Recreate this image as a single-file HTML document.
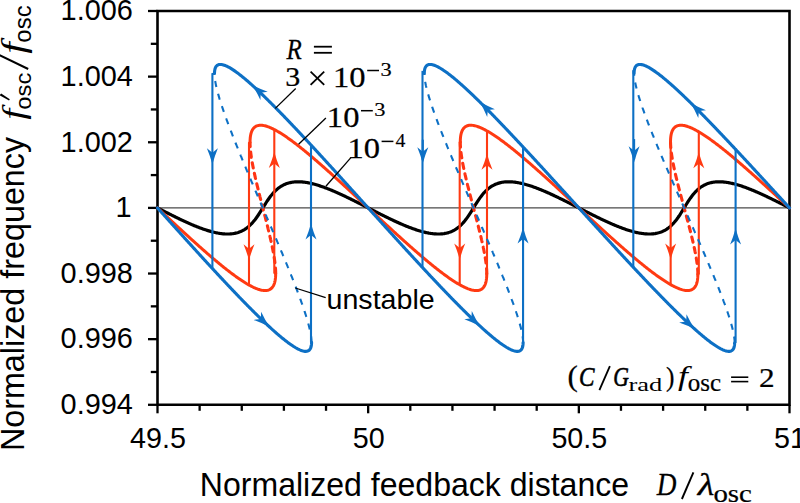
<!DOCTYPE html>
<html><head><meta charset="utf-8"><style>
html,body{margin:0;padding:0;background:#fff;overflow:hidden;width:800px;height:503px;}
svg{display:block;}
</style></head><body>
<svg width="800" height="503" viewBox="0 0 800 503">
<path d="M157.5,11.0 H789.5 V404.8 H157.5 Z" fill="none" stroke="#000" stroke-width="2.6"/>
<line x1="148.00" y1="404.80" x2="157.5" y2="404.80" stroke="#000" stroke-width="2.3"/>
<line x1="150.80" y1="371.98" x2="157.5" y2="371.98" stroke="#000" stroke-width="2.3"/>
<line x1="148.00" y1="339.17" x2="157.5" y2="339.17" stroke="#000" stroke-width="2.3"/>
<line x1="150.80" y1="306.35" x2="157.5" y2="306.35" stroke="#000" stroke-width="2.3"/>
<line x1="148.00" y1="273.53" x2="157.5" y2="273.53" stroke="#000" stroke-width="2.3"/>
<line x1="150.80" y1="240.72" x2="157.5" y2="240.72" stroke="#000" stroke-width="2.3"/>
<line x1="148.00" y1="207.90" x2="157.5" y2="207.90" stroke="#000" stroke-width="2.3"/>
<line x1="150.80" y1="175.08" x2="157.5" y2="175.08" stroke="#000" stroke-width="2.3"/>
<line x1="148.00" y1="142.27" x2="157.5" y2="142.27" stroke="#000" stroke-width="2.3"/>
<line x1="150.80" y1="109.45" x2="157.5" y2="109.45" stroke="#000" stroke-width="2.3"/>
<line x1="148.00" y1="76.63" x2="157.5" y2="76.63" stroke="#000" stroke-width="2.3"/>
<line x1="150.80" y1="43.82" x2="157.5" y2="43.82" stroke="#000" stroke-width="2.3"/>
<line x1="148.00" y1="11.00" x2="157.5" y2="11.00" stroke="#000" stroke-width="2.3"/>
<line x1="157.50" y1="404.8" x2="157.50" y2="413.30" stroke="#000" stroke-width="2.3"/>
<line x1="199.63" y1="404.8" x2="199.63" y2="410.80" stroke="#000" stroke-width="2.3"/>
<line x1="241.77" y1="404.8" x2="241.77" y2="410.80" stroke="#000" stroke-width="2.3"/>
<line x1="283.90" y1="404.8" x2="283.90" y2="410.80" stroke="#000" stroke-width="2.3"/>
<line x1="326.03" y1="404.8" x2="326.03" y2="410.80" stroke="#000" stroke-width="2.3"/>
<line x1="368.17" y1="404.8" x2="368.17" y2="413.30" stroke="#000" stroke-width="2.3"/>
<line x1="410.30" y1="404.8" x2="410.30" y2="410.80" stroke="#000" stroke-width="2.3"/>
<line x1="452.43" y1="404.8" x2="452.43" y2="410.80" stroke="#000" stroke-width="2.3"/>
<line x1="494.57" y1="404.8" x2="494.57" y2="410.80" stroke="#000" stroke-width="2.3"/>
<line x1="536.70" y1="404.8" x2="536.70" y2="410.80" stroke="#000" stroke-width="2.3"/>
<line x1="578.83" y1="404.8" x2="578.83" y2="413.30" stroke="#000" stroke-width="2.3"/>
<line x1="620.97" y1="404.8" x2="620.97" y2="410.80" stroke="#000" stroke-width="2.3"/>
<line x1="663.10" y1="404.8" x2="663.10" y2="410.80" stroke="#000" stroke-width="2.3"/>
<line x1="705.23" y1="404.8" x2="705.23" y2="410.80" stroke="#000" stroke-width="2.3"/>
<line x1="747.37" y1="404.8" x2="747.37" y2="410.80" stroke="#000" stroke-width="2.3"/>
<line x1="789.50" y1="404.8" x2="789.50" y2="413.30" stroke="#000" stroke-width="2.3"/>
<line x1="157.5" y1="207.90" x2="789.5" y2="207.90" stroke="#4a4a4a" stroke-width="1.3"/>
<path d="M157.50,207.90 L158.31,208.32 L159.13,208.74 L159.94,209.15 L160.75,209.57 L161.57,209.99 L162.38,210.41 L163.19,210.82 L164.00,211.24 L164.81,211.65 L165.63,212.06 L166.44,212.48 L167.24,212.89 L168.05,213.30 L168.86,213.71 L169.67,214.11 L170.47,214.52 L171.28,214.92 L172.10,215.33 L172.92,215.74 L173.73,216.15 L174.55,216.55 L175.36,216.95 L176.17,217.35 L176.98,217.75 L177.79,218.14 L178.62,218.54 L179.44,218.94 L180.26,219.33 L181.07,219.72 L181.89,220.11 L182.72,220.50 L183.54,220.88 L184.37,221.27 L185.19,221.65 L186.01,222.02 L186.84,222.40 L187.66,222.77 L188.49,223.14 L189.33,223.51 L190.16,223.88 L190.99,224.24 L191.82,224.60 L192.66,224.96 L193.49,225.31 L194.33,225.66 L195.17,226.00 L196.01,226.34 L196.86,226.68 L197.70,227.02 L198.54,227.35 L199.40,227.67 L200.24,227.99 L201.10,228.31 L201.95,228.62 L202.81,228.93 L203.66,229.22 L204.53,229.52 L205.38,229.81 L206.25,230.09 L207.11,230.36 L207.98,230.63 L208.85,230.90 L209.72,231.15 L210.59,231.40 L211.47,231.64 L212.34,231.86 L213.22,232.09 L214.11,232.30 L215.00,232.50 L215.88,232.69 L216.76,232.87 L217.65,233.04 L218.54,233.20 L219.44,233.35 L220.33,233.48 L221.23,233.60 L222.13,233.71 L223.04,233.80 L223.94,233.88 L224.84,233.94 L225.74,233.98 L226.65,234.01 L227.55,234.02 L228.46,234.01 L229.37,233.98 L230.27,233.92 L231.17,233.85 L232.07,233.76 L232.97,233.64 L233.86,233.50 L234.74,233.33 L235.62,233.14 L236.50,232.93 L237.37,232.69 L238.23,232.42 L239.09,232.12 L239.93,231.80 L240.77,231.46 L241.59,231.08 L242.41,230.69 L243.20,230.27 L243.99,229.82 L244.76,229.35 L245.52,228.85 L246.27,228.34 L247.00,227.80 L247.71,227.24 L248.41,226.67 L249.09,226.07 L249.76,225.47 L250.41,224.84 L251.05,224.21 L251.68,223.55 L252.29,222.89 L252.89,222.21 L253.47,221.53 L254.05,220.83 L254.61,220.13 L255.17,219.42 L255.72,218.69 L256.25,217.96 L256.78,217.23 L257.30,216.49 L257.82,215.74 L258.32,214.99 L258.82,214.24 L259.32,213.48 L259.81,212.72 L260.30,211.96 L260.78,211.20 L261.26,210.43 L261.74,209.66 L262.22,208.89 L262.69,208.12 L263.17,207.35 L263.65,206.58 L264.13,205.82 L264.61,205.05 L265.09,204.29 L265.57,203.53 L266.06,202.76 L266.55,202.00 L267.05,201.24 L267.55,200.49 L268.06,199.74 L268.58,199.00 L269.10,198.27 L269.63,197.53 L270.17,196.81 L270.72,196.09 L271.28,195.38 L271.85,194.67 L272.43,193.98 L273.02,193.30 L273.63,192.63 L274.25,191.97 L274.88,191.32 L275.52,190.68 L276.18,190.07 L276.86,189.46 L277.55,188.88 L278.25,188.31 L278.97,187.76 L279.71,187.23 L280.46,186.72 L281.22,186.24 L282.00,185.78 L282.79,185.34 L283.60,184.93 L284.42,184.54 L285.25,184.18 L286.09,183.84 L286.94,183.53 L287.81,183.25 L288.67,183.00 L289.55,182.77 L290.43,182.56 L291.31,182.38 L292.21,182.23 L293.10,182.10 L294.00,181.99 L294.90,181.91 L295.81,181.85 L296.71,181.81 L297.61,181.79 L298.52,181.78 L299.43,181.80 L300.33,181.84 L301.24,181.89 L302.15,181.96 L303.05,182.05 L303.95,182.15 L304.84,182.26 L305.73,182.39 L306.62,182.53 L307.52,182.68 L308.42,182.85 L309.31,183.02 L310.20,183.21 L311.08,183.41 L311.96,183.62 L312.84,183.83 L313.72,184.06 L314.60,184.29 L315.47,184.54 L316.34,184.79 L317.21,185.05 L318.08,185.31 L318.95,185.58 L319.81,185.86 L320.67,186.15 L321.53,186.44 L322.38,186.73 L323.24,187.04 L324.09,187.34 L324.94,187.66 L325.78,187.97 L326.63,188.29 L327.49,188.62 L328.33,188.96 L329.18,189.29 L330.01,189.63 L330.86,189.98 L331.70,190.33 L332.54,190.68 L333.37,191.03 L334.22,191.39 L335.05,191.75 L335.88,192.11 L336.72,192.48 L337.54,192.85 L338.37,193.22 L339.20,193.60 L340.03,193.98 L340.85,194.36 L341.68,194.74 L342.50,195.12 L343.33,195.51 L344.15,195.90 L344.96,196.28 L345.78,196.68 L346.60,197.07 L347.43,197.47 L348.24,197.86 L349.05,198.26 L349.86,198.65 L350.68,199.05 L351.49,199.46 L352.31,199.86 L353.13,200.27 L353.95,200.68 L354.76,201.08 L355.56,201.49 L356.37,201.89 L357.18,202.30 L357.99,202.71 L358.80,203.12 L359.62,203.53 L360.43,203.94 L361.24,204.36 L362.06,204.77 L362.87,205.19 L363.68,205.61 L364.50,206.02 L365.32,206.44 L366.13,206.86 L366.95,207.28 L367.76,207.69 L368.58,208.11 L369.40,208.53 L370.21,208.95 L371.03,209.37 L371.84,209.78 L372.66,210.20 L373.47,210.62 L374.29,211.03 L375.10,211.45 L375.92,211.86 L376.73,212.27 L377.54,212.69 L378.35,213.10 L379.17,213.51 L379.97,213.91 L380.78,214.32 L381.59,214.72 L382.40,215.13 L383.20,215.53 L384.02,215.94 L384.84,216.34 L385.66,216.74 L386.48,217.14 L387.29,217.54 L388.10,217.94 L388.91,218.33 L389.74,218.73 L390.56,219.12 L391.38,219.51 L392.20,219.90 L393.02,220.29 L393.85,220.68 L394.67,221.06 L395.50,221.44 L396.32,221.82 L397.14,222.19 L397.97,222.57 L398.80,222.94 L399.63,223.31 L400.47,223.68 L401.30,224.04 L402.13,224.40 L402.96,224.76 L403.80,225.11 L404.64,225.46 L405.47,225.80 L406.31,226.15 L407.15,226.49 L408.00,226.83 L408.85,227.16 L409.69,227.48 L410.54,227.81 L411.39,228.12 L412.24,228.44 L413.09,228.74 L413.95,229.05 L414.81,229.34 L415.67,229.63 L416.53,229.92 L417.39,230.20 L418.25,230.47 L419.12,230.73 L419.99,230.99 L420.86,231.24 L421.73,231.48 L422.61,231.72 L423.48,231.95 L424.36,232.16 L425.24,232.37 L426.13,232.57 L427.02,232.76 L427.91,232.93 L428.79,233.10 L429.68,233.25 L430.57,233.40 L431.47,233.52 L432.37,233.64 L433.26,233.74 L434.16,233.83 L435.06,233.90 L435.96,233.95 L436.86,233.99 L437.77,234.01 L438.68,234.02 L439.59,234.00 L440.49,233.96 L441.39,233.90 L442.29,233.82 L443.19,233.72 L444.09,233.59 L444.98,233.44 L445.87,233.27 L446.76,233.07 L447.63,232.84 L448.50,232.59 L449.37,232.31 L450.22,232.01 L451.06,231.68 L451.89,231.32 L452.71,230.94 L453.52,230.53 L454.32,230.10 L455.10,229.64 L455.86,229.16 L456.61,228.66 L457.35,228.13 L458.07,227.58 L458.78,227.02 L459.47,226.43 L460.14,225.83 L460.81,225.21 L461.45,224.58 L462.09,223.93 L462.71,223.27 L463.31,222.59 L463.91,221.91 L464.49,221.21 L465.06,220.51 L465.62,219.80 L466.17,219.08 L466.71,218.35 L467.24,217.61 L467.76,216.87 L468.27,216.13 L468.78,215.38 L469.28,214.62 L469.77,213.87 L470.26,213.11 L470.75,212.34 L471.23,211.57 L471.71,210.81 L472.18,210.04 L472.66,209.28 L473.13,208.51 L473.60,207.74 L474.07,206.97 L474.55,206.20 L475.02,205.43 L475.49,204.66 L475.98,203.89 L476.46,203.13 L476.95,202.36 L477.44,201.61 L477.94,200.85 L478.44,200.09 L478.95,199.35 L479.47,198.60 L479.99,197.86 L480.52,197.13 L481.07,196.41 L481.62,195.69 L482.18,194.98 L482.75,194.29 L483.34,193.59 L483.93,192.92 L484.54,192.25 L485.16,191.60 L485.80,190.95 L486.45,190.33 L487.12,189.72 L487.80,189.12 L488.50,188.54 L489.21,187.98 L489.94,187.45 L490.68,186.93 L491.44,186.44 L492.21,185.96 L492.99,185.52 L493.79,185.09 L494.61,184.69 L495.43,184.32 L496.27,183.97 L497.11,183.65 L497.97,183.36 L498.83,183.10 L499.70,182.86 L500.59,182.64 L501.47,182.45 L502.37,182.29 L503.26,182.15 L504.15,182.03 L505.05,181.94 L505.95,181.87 L506.86,181.82 L507.76,181.79 L508.67,181.78 L509.57,181.79 L510.48,181.82 L511.38,181.87 L512.28,181.93 L513.19,182.01 L514.09,182.10 L514.99,182.21 L515.89,182.34 L516.79,182.47 L517.69,182.62 L518.58,182.78 L519.47,182.95 L520.36,183.14 L521.24,183.33 L522.12,183.53 L523.00,183.74 L523.88,183.97 L524.76,184.20 L525.63,184.44 L526.50,184.68 L527.37,184.94 L528.24,185.20 L529.11,185.47 L529.97,185.74 L530.84,186.03 L531.70,186.32 L532.55,186.61 L533.40,186.91 L534.25,187.21 L535.11,187.52 L535.95,187.83 L536.80,188.15 L537.65,188.48 L538.50,188.81 L539.35,189.14 L540.18,189.48 L541.03,189.82 L541.87,190.17 L542.71,190.51 L543.55,190.87 L544.39,191.22 L545.22,191.58 L546.05,191.94 L546.89,192.31 L547.72,192.68 L548.55,193.04 L549.38,193.42 L550.21,193.80 L551.03,194.17 L551.86,194.55 L552.69,194.94 L553.51,195.32 L554.33,195.71 L555.15,196.09 L555.97,196.48 L556.79,196.87 L557.62,197.27 L558.43,197.66 L559.24,198.06 L560.06,198.45 L560.88,198.85 L561.69,199.25 L562.51,199.66 L563.33,200.06 L564.14,200.46 L564.95,200.87 L565.76,201.27 L566.57,201.68 L567.38,202.08 L568.19,202.49 L569.01,202.90 L569.82,203.31 L570.64,203.72 L571.45,204.14 L572.27,204.55 L573.08,204.97 L573.90,205.38 L574.70,205.79 L575.51,206.20 L576.31,206.61 L577.11,207.02 L577.91,207.43 L578.72,207.84 L579.52,208.25 L580.32,208.66 L581.13,209.07 L581.93,209.48 L582.73,209.89 L583.53,210.30 L584.35,210.71 L585.17,211.13 L585.99,211.55 L586.80,211.96 L587.62,212.37 L588.43,212.78 L589.25,213.19 L590.06,213.60 L590.87,214.01 L591.68,214.42 L592.49,214.82 L593.30,215.22 L594.11,215.62 L594.93,216.03 L595.75,216.43 L596.57,216.84 L597.39,217.24 L598.21,217.63 L599.02,218.03 L599.84,218.42 L600.66,218.82 L601.49,219.21 L602.31,219.60 L603.13,219.99 L603.95,220.37 L604.77,220.76 L605.59,221.14 L606.42,221.52 L607.25,221.90 L608.07,222.27 L608.90,222.64 L609.73,223.02 L610.56,223.38 L611.39,223.74 L612.22,224.11 L613.06,224.47 L613.89,224.82 L614.73,225.17 L615.57,225.52 L616.40,225.87 L617.25,226.21 L618.09,226.55 L618.92,226.88 L619.77,227.21 L620.61,227.53 L621.47,227.85 L622.31,228.17 L623.17,228.48 L624.02,228.79 L624.88,229.09 L625.74,229.39 L626.60,229.68 L627.46,229.96 L628.33,230.24 L629.19,230.51 L630.06,230.77 L630.93,231.03 L631.80,231.28 L632.67,231.52 L633.55,231.75 L634.42,231.97 L635.30,232.19 L636.18,232.40 L637.07,232.59 L637.96,232.78 L638.85,232.96 L639.73,233.12 L640.62,233.27 L641.51,233.41 L642.41,233.54 L643.31,233.65 L644.20,233.75 L645.10,233.84 L646.00,233.91 L646.90,233.96 L647.81,234.00 L648.72,234.02 L649.62,234.01 L650.53,234.00 L651.43,233.96 L652.33,233.89 L653.23,233.81 L654.13,233.71 L655.03,233.58 L655.92,233.42 L656.81,233.25 L657.69,233.04 L658.56,232.82 L659.43,232.56 L660.29,232.28 L661.14,231.97 L661.98,231.64 L662.81,231.28 L663.62,230.89 L664.43,230.48 L665.22,230.04 L666.00,229.58 L666.76,229.10 L667.50,228.59 L668.23,228.07 L668.95,227.52 L669.65,226.95 L670.34,226.36 L671.01,225.75 L671.67,225.13 L672.31,224.49 L672.94,223.84 L673.55,223.18 L674.16,222.50 L674.74,221.82 L675.32,221.12 L675.88,220.41 L676.44,219.70 L676.98,218.98 L677.51,218.24 L678.04,217.51 L678.55,216.77 L679.07,216.02 L679.57,215.26 L680.06,214.51 L680.56,213.74 L681.04,212.98 L681.52,212.22 L682.00,211.45 L682.48,210.68 L682.95,209.90 L683.42,209.13 L683.89,208.36 L684.35,207.59 L684.82,206.82 L685.29,206.05 L685.76,205.28 L686.24,204.50 L686.72,203.73 L687.20,202.97 L687.68,202.21 L688.17,201.44 L688.67,200.68 L689.17,199.93 L689.68,199.18 L690.19,198.43 L690.71,197.70 L691.25,196.96 L691.79,196.24 L692.34,195.52 L692.90,194.81 L693.47,194.11 L694.06,193.43 L694.66,192.75 L695.27,192.08 L695.89,191.43 L696.53,190.79 L697.18,190.16 L697.85,189.55 L698.54,188.96 L699.24,188.38 L699.95,187.83 L700.68,187.30 L701.43,186.78 L702.19,186.29 L702.96,185.83 L703.75,185.39 L704.55,184.97 L705.37,184.58 L706.19,184.21 L707.04,183.87 L707.89,183.56 L708.74,183.28 L709.60,183.02 L710.47,182.79 L711.35,182.58 L712.23,182.40 L713.12,182.24 L714.01,182.11 L714.91,182.00 L715.81,181.92 L716.72,181.85 L717.63,181.81 L718.53,181.79 L719.43,181.78 L720.33,181.80 L721.24,181.83 L722.15,181.88 L723.05,181.95 L723.96,182.04 L724.86,182.13 L725.75,182.25 L726.64,182.37 L727.53,182.51 L728.42,182.66 L729.32,182.82 L730.21,183.00 L731.10,183.19 L731.99,183.38 L732.87,183.59 L733.75,183.80 L734.63,184.03 L735.51,184.26 L736.38,184.50 L737.25,184.75 L738.12,185.01 L738.99,185.27 L739.85,185.54 L740.71,185.81 L741.57,186.10 L742.43,186.39 L743.29,186.68 L744.15,186.98 L745.00,187.29 L745.86,187.60 L746.70,187.91 L747.55,188.23 L748.40,188.56 L749.24,188.89 L750.10,189.22 L750.94,189.56 L751.78,189.90 L752.62,190.25 L753.45,190.59 L754.30,190.95 L755.13,191.30 L755.96,191.66 L756.80,192.02 L757.62,192.38 L758.45,192.75 L759.29,193.12 L760.12,193.50 L760.94,193.87 L761.77,194.24 L762.59,194.62 L763.42,195.01 L764.24,195.39 L765.06,195.77 L765.88,196.16 L766.71,196.55 L767.53,196.94 L768.35,197.33 L769.16,197.72 L769.98,198.12 L770.79,198.52 L771.61,198.91 L772.43,199.32 L773.26,199.72 L774.07,200.12 L774.87,200.52 L775.69,200.92 L776.50,201.33 L777.31,201.73 L778.13,202.14 L778.94,202.55 L779.76,202.96 L780.57,203.37 L781.39,203.78 L782.21,204.20 L783.01,204.60 L783.82,205.01 L784.62,205.42 L785.43,205.83 L786.23,206.24 L787.04,206.65 L787.84,207.06 L788.65,207.47 L789.45,207.88 L789.50,207.90" fill="none" stroke="#000" stroke-width="3.2" stroke-linejoin="round" stroke-linecap="round"/>
<path d="M275.68,273.41 L275.67,272.90 L275.67,272.40 L275.66,271.88 L275.64,271.38 L275.63,270.88 L275.60,270.37 L275.58,269.87 L275.55,269.36 L275.52,268.85 L275.49,268.34 L275.45,267.83 L275.41,267.33 L275.37,266.81 L275.32,266.30 L275.27,265.79 L275.22,265.29 L275.17,264.78 L275.11,264.26 L275.06,263.76 L275.00,263.26 L274.94,262.75 L274.87,262.24 L274.81,261.72 L274.74,261.22 L274.67,260.72 L274.60,260.22 L274.53,259.71 L274.46,259.19 L274.38,258.68 L274.30,258.18 L274.22,257.68 L274.15,257.18 L274.06,256.67 L273.98,256.16 L273.90,255.65 L273.81,255.13 L273.72,254.64 L273.64,254.14 L273.55,253.64 L273.46,253.14 L273.37,252.63 L273.27,252.12 L273.18,251.61 L273.08,251.10 L272.99,250.61 L272.89,250.11 L272.80,249.62 L272.70,249.12 L272.60,248.62 L272.50,248.11 L272.40,247.61 L272.30,247.10 L272.19,246.59 L272.09,246.08 L271.98,245.57 L271.88,245.08 L271.77,244.59 L271.67,244.09 L271.56,243.60 L271.46,243.10 L271.35,242.60 L271.24,242.10 L271.13,241.60 L271.02,241.10 L270.91,240.59 L270.79,240.09 L270.68,239.58 L270.56,239.07 L270.45,238.56 L270.33,238.04 L270.22,237.56 L270.11,237.07 L269.99,236.58 L269.88,236.08 L269.76,235.59 L269.65,235.10 L269.53,234.60 L269.41,234.11 L269.30,233.61 L269.18,233.11 L269.06,232.61 L268.94,232.11 L268.82,231.61 L268.70,231.10 L268.58,230.60 L268.45,230.10 L268.33,229.59 L268.21,229.08 L268.08,228.58 L267.96,228.07 L267.83,227.56 L267.71,227.05 L267.58,226.54 L267.45,226.03 L267.33,225.54 L267.21,225.05 L267.09,224.57 L266.97,224.08 L266.85,223.59 L266.72,223.10 L266.60,222.61 L266.48,222.12 L266.35,221.63 L266.23,221.14 L266.10,220.65 L265.98,220.16 L265.85,219.67 L265.73,219.17 L265.60,218.68 L265.48,218.19 L265.35,217.69 L265.23,217.20 L265.10,216.70 L264.97,216.21 L264.84,215.71 L264.72,215.22 L264.59,214.72 L264.46,214.22 L264.34,213.73 L264.21,213.23 L264.08,212.73 L263.95,212.24 L263.82,211.74 L263.70,211.24 L263.57,210.74 L263.44,210.25 L263.31,209.75 L263.18,209.25 L263.05,208.75 L262.92,208.26 L262.80,207.76 L262.67,207.26 L262.54,206.76 L262.41,206.26 L262.28,205.77 L262.15,205.27 L262.03,204.77 L261.90,204.27 L261.77,203.77 L261.64,203.28 L261.51,202.78 L261.39,202.28 L261.26,201.79 L261.13,201.29 L261.00,200.79 L260.88,200.30 L260.75,199.80 L260.62,199.31 L260.50,198.81 L260.37,198.32 L260.24,197.82 L260.12,197.33 L259.99,196.84 L259.87,196.34 L259.74,195.85 L259.62,195.36 L259.49,194.87 L259.37,194.38 L259.25,193.89 L259.12,193.40 L259.00,192.91 L258.88,192.42 L258.76,191.93 L258.63,191.44 L258.51,190.95 L258.39,190.47 L258.27,189.98 L258.14,189.47 L258.02,188.96 L257.89,188.45 L257.77,187.94 L257.64,187.43 L257.52,186.92 L257.39,186.41 L257.27,185.91 L257.15,185.40 L257.03,184.90 L256.91,184.40 L256.79,183.89 L256.67,183.39 L256.55,182.89 L256.43,182.39 L256.31,181.89 L256.19,181.40 L256.08,180.90 L255.96,180.41 L255.85,179.91 L255.73,179.42 L255.62,178.93 L255.51,178.44 L255.39,177.95 L255.28,177.44 L255.16,176.93 L255.05,176.42 L254.93,175.91 L254.82,175.40 L254.71,174.90 L254.60,174.39 L254.49,173.89 L254.38,173.39 L254.27,172.89 L254.16,172.39 L254.06,171.90 L253.95,171.40 L253.85,170.91 L253.75,170.42 L253.64,169.90 L253.53,169.39 L253.43,168.88 L253.33,168.38 L253.23,167.87 L253.13,167.37 L253.03,166.87 L252.93,166.37 L252.83,165.87 L252.74,165.37 L252.65,164.88 L252.55,164.37 L252.45,163.86 L252.36,163.35 L252.27,162.84 L252.18,162.34 L252.09,161.83 L252.00,161.33 L251.92,160.84 L251.84,160.34 L251.75,159.83 L251.67,159.32 L251.59,158.81 L251.51,158.31 L251.43,157.81 L251.35,157.31 L251.28,156.81 L251.20,156.30 L251.13,155.79 L251.06,155.28 L250.99,154.78 L250.93,154.28 L250.86,153.78 L250.80,153.27 L250.74,152.76 L250.68,152.25 L250.62,151.75 L250.56,151.25 L250.51,150.74 L250.46,150.23 L250.41,149.73 L250.37,149.23 L250.32,148.71 L250.28,148.20 L250.24,147.70 L250.21,147.20 L250.18,146.69 L250.15,146.18 L250.12,145.68 L250.10,145.16 L250.08,144.65 L250.06,144.15 L250.05,143.64 L250.04,143.13 L250.04,142.63 L250.04,142.43" fill="none" stroke="#ff3414" stroke-width="3.1" stroke-dasharray="5.3 5.5" stroke-linecap="round"/>
<path d="M486.77,273.79 L486.76,273.28 L486.76,272.76 L486.75,272.25 L486.73,271.74 L486.71,271.24 L486.69,270.73 L486.66,270.22 L486.64,269.72 L486.60,269.21 L486.57,268.70 L486.53,268.20 L486.49,267.70 L486.45,267.19 L486.40,266.67 L486.35,266.17 L486.30,265.67 L486.24,265.16 L486.19,264.65 L486.13,264.15 L486.07,263.65 L486.01,263.15 L485.94,262.64 L485.87,262.13 L485.81,261.63 L485.74,261.13 L485.67,260.63 L485.59,260.12 L485.52,259.61 L485.44,259.10 L485.36,258.61 L485.28,258.11 L485.20,257.61 L485.12,257.10 L485.03,256.60 L484.94,256.09 L484.86,255.57 L484.77,255.08 L484.68,254.59 L484.59,254.09 L484.50,253.59 L484.41,253.08 L484.31,252.58 L484.21,252.07 L484.12,251.56 L484.02,251.04 L483.92,250.55 L483.82,250.06 L483.72,249.56 L483.62,249.06 L483.52,248.56 L483.41,248.06 L483.31,247.55 L483.20,247.05 L483.10,246.54 L482.99,246.03 L482.88,245.51 L482.77,245.02 L482.66,244.53 L482.56,244.04 L482.45,243.54 L482.34,243.04 L482.22,242.54 L482.11,242.04 L482.00,241.54 L481.88,241.04 L481.77,240.53 L481.65,240.03 L481.54,239.52 L481.42,239.01 L481.30,238.50 L481.18,238.01 L481.07,237.52 L480.95,237.03 L480.84,236.54 L480.72,236.05 L480.60,235.56 L480.48,235.06 L480.36,234.57 L480.24,234.07 L480.12,233.57 L480.00,233.07 L479.88,232.57 L479.75,232.07 L479.63,231.57 L479.50,231.07 L479.38,230.57 L479.25,230.06 L479.13,229.55 L479.00,229.05 L478.87,228.54 L478.74,228.03 L478.62,227.52 L478.49,227.01 L478.36,226.50 L478.23,226.02 L478.11,225.53 L477.99,225.04 L477.86,224.56 L477.74,224.07 L477.61,223.58 L477.48,223.09 L477.36,222.60 L477.23,222.11 L477.10,221.62 L476.98,221.13 L476.85,220.64 L476.72,220.15 L476.59,219.66 L476.47,219.16 L476.34,218.67 L476.21,218.18 L476.08,217.68 L475.95,217.19 L475.82,216.69 L475.69,216.20 L475.56,215.70 L475.43,215.21 L475.30,214.71 L475.17,214.22 L475.04,213.72 L474.91,213.22 L474.77,212.72 L474.64,212.23 L474.51,211.73 L474.38,211.23 L474.25,210.74 L474.12,210.24 L473.99,209.74 L473.85,209.24 L473.72,208.74 L473.59,208.25 L473.46,207.75 L473.33,207.25 L473.20,206.75 L473.06,206.25 L472.93,205.76 L472.80,205.26 L472.67,204.76 L472.54,204.26 L472.41,203.77 L472.28,203.27 L472.15,202.77 L472.01,202.27 L471.88,201.78 L471.75,201.28 L471.62,200.79 L471.49,200.29 L471.36,199.79 L471.23,199.30 L471.10,198.80 L470.97,198.31 L470.84,197.81 L470.72,197.32 L470.59,196.83 L470.46,196.33 L470.33,195.84 L470.20,195.35 L470.07,194.86 L469.95,194.37 L469.82,193.88 L469.69,193.39 L469.57,192.90 L469.44,192.41 L469.32,191.92 L469.19,191.43 L469.07,190.94 L468.94,190.46 L468.82,189.97 L468.70,189.49 L468.57,188.98 L468.44,188.47 L468.31,187.96 L468.18,187.45 L468.05,186.94 L467.93,186.43 L467.80,185.93 L467.68,185.42 L467.55,184.92 L467.43,184.41 L467.30,183.91 L467.18,183.41 L467.06,182.91 L466.94,182.41 L466.81,181.91 L466.69,181.42 L466.57,180.92 L466.46,180.42 L466.34,179.93 L466.22,179.44 L466.10,178.95 L465.99,178.46 L465.87,177.97 L465.76,177.48 L465.64,176.97 L465.52,176.46 L465.40,175.95 L465.29,175.44 L465.17,174.94 L465.06,174.43 L464.94,173.93 L464.83,173.43 L464.72,172.93 L464.61,172.43 L464.50,171.94 L464.39,171.44 L464.29,170.95 L464.18,170.46 L464.08,169.97 L463.97,169.46 L463.86,168.95 L463.75,168.44 L463.65,167.93 L463.55,167.43 L463.44,166.93 L463.34,166.43 L463.24,165.93 L463.15,165.44 L463.05,164.94 L462.95,164.45 L462.85,163.94 L462.76,163.43 L462.66,162.92 L462.57,162.42 L462.48,161.92 L462.39,161.42 L462.30,160.92 L462.21,160.43 L462.12,159.91 L462.04,159.40 L461.95,158.89 L461.87,158.39 L461.79,157.89 L461.71,157.39 L461.63,156.89 L461.55,156.38 L461.47,155.87 L461.40,155.36 L461.33,154.86 L461.26,154.35 L461.19,153.86 L461.12,153.34 L461.06,152.83 L460.99,152.33 L460.93,151.83 L460.88,151.33 L460.82,150.81 L460.76,150.30 L460.71,149.80 L460.66,149.30 L460.62,148.78 L460.57,148.27 L460.53,147.77 L460.49,147.27 L460.46,146.75 L460.42,146.24 L460.39,145.74 L460.37,145.23 L460.34,144.72 L460.32,144.21 L460.31,143.70 L460.30,143.19 L460.29,142.69 L460.29,142.18 L460.29,142.06" fill="none" stroke="#ff3414" stroke-width="3.1" stroke-dasharray="5.3 5.5" stroke-linecap="round"/>
<path d="M697.86,274.14 L697.86,273.63 L697.85,273.12 L697.84,272.62 L697.82,272.11 L697.80,271.60 L697.78,271.09 L697.75,270.59 L697.72,270.07 L697.69,269.57 L697.65,269.06 L697.61,268.55 L697.57,268.04 L697.53,267.54 L697.48,267.03 L697.43,266.51 L697.37,266.01 L697.32,265.51 L697.26,265.00 L697.20,264.49 L697.14,263.99 L697.07,263.49 L697.01,262.98 L696.94,262.47 L696.87,261.96 L696.79,261.46 L696.72,260.96 L696.65,260.45 L696.57,259.95 L696.49,259.44 L696.40,258.92 L696.32,258.43 L696.24,257.93 L696.15,257.43 L696.07,256.92 L695.98,256.41 L695.89,255.90 L695.80,255.39 L695.70,254.89 L695.61,254.40 L695.52,253.90 L695.42,253.40 L695.33,252.89 L695.23,252.38 L695.13,251.88 L695.02,251.36 L694.93,250.87 L694.82,250.38 L694.72,249.88 L694.62,249.39 L694.52,248.89 L694.41,248.39 L694.30,247.88 L694.19,247.38 L694.08,246.87 L693.97,246.36 L693.86,245.85 L693.75,245.36 L693.64,244.87 L693.53,244.37 L693.42,243.88 L693.31,243.38 L693.19,242.89 L693.08,242.39 L692.96,241.89 L692.84,241.38 L692.73,240.88 L692.61,240.37 L692.49,239.87 L692.37,239.36 L692.24,238.85 L692.12,238.34 L692.00,237.85 L691.89,237.36 L691.77,236.87 L691.65,236.38 L691.53,235.89 L691.40,235.39 L691.28,234.90 L691.16,234.40 L691.03,233.91 L690.91,233.41 L690.78,232.91 L690.66,232.41 L690.53,231.91 L690.40,231.40 L690.28,230.90 L690.15,230.40 L690.02,229.89 L689.89,229.39 L689.76,228.88 L689.63,228.37 L689.50,227.86 L689.36,227.35 L689.23,226.84 L689.11,226.36 L688.98,225.87 L688.85,225.39 L688.72,224.90 L688.60,224.41 L688.47,223.93 L688.34,223.44 L688.21,222.95 L688.08,222.46 L687.95,221.97 L687.82,221.48 L687.69,220.99 L687.56,220.50 L687.43,220.00 L687.30,219.51 L687.17,219.02 L687.03,218.52 L686.90,218.03 L686.77,217.54 L686.64,217.04 L686.50,216.55 L686.37,216.05 L686.24,215.56 L686.10,215.06 L685.97,214.56 L685.84,214.07 L685.70,213.57 L685.57,213.07 L685.43,212.58 L685.30,212.08 L685.16,211.58 L685.03,211.09 L684.89,210.59 L684.76,210.09 L684.62,209.59 L684.49,209.09 L684.36,208.60 L684.22,208.10 L684.09,207.60 L683.95,207.10 L683.82,206.60 L683.68,206.11 L683.55,205.61 L683.41,205.11 L683.28,204.61 L683.14,204.12 L683.01,203.62 L682.87,203.12 L682.74,202.62 L682.61,202.13 L682.47,201.63 L682.34,201.13 L682.20,200.64 L682.07,200.14 L681.94,199.65 L681.80,199.15 L681.67,198.66 L681.54,198.16 L681.41,197.67 L681.27,197.17 L681.14,196.68 L681.01,196.19 L680.88,195.70 L680.75,195.20 L680.62,194.71 L680.49,194.22 L680.36,193.73 L680.23,193.24 L680.10,192.75 L679.97,192.26 L679.84,191.77 L679.72,191.29 L679.59,190.80 L679.46,190.31 L679.33,189.83 L679.21,189.34 L679.08,188.86 L678.95,188.35 L678.82,187.84 L678.69,187.33 L678.56,186.82 L678.43,186.32 L678.30,185.81 L678.17,185.31 L678.04,184.80 L677.91,184.30 L677.79,183.80 L677.66,183.30 L677.53,182.80 L677.41,182.30 L677.29,181.80 L677.16,181.30 L677.04,180.81 L676.92,180.31 L676.80,179.82 L676.68,179.33 L676.56,178.84 L676.44,178.35 L676.32,177.86 L676.20,177.37 L676.08,176.86 L675.96,176.35 L675.84,175.84 L675.72,175.33 L675.60,174.83 L675.49,174.33 L675.37,173.82 L675.25,173.32 L675.14,172.82 L675.03,172.33 L674.91,171.83 L674.80,171.34 L674.69,170.84 L674.58,170.35 L674.48,169.86 L674.36,169.35 L674.25,168.84 L674.15,168.34 L674.04,167.83 L673.93,167.33 L673.83,166.83 L673.72,166.33 L673.62,165.83 L673.52,165.33 L673.42,164.84 L673.32,164.35 L673.22,163.84 L673.12,163.33 L673.02,162.82 L672.93,162.32 L672.83,161.82 L672.74,161.32 L672.65,160.82 L672.56,160.33 L672.47,159.82 L672.38,159.31 L672.29,158.80 L672.20,158.29 L672.12,157.79 L672.03,157.29 L671.95,156.80 L671.87,156.29 L671.79,155.77 L671.72,155.27 L671.64,154.76 L671.57,154.27 L671.50,153.77 L671.43,153.26 L671.36,152.75 L671.29,152.24 L671.23,151.74 L671.17,151.24 L671.11,150.73 L671.05,150.22 L671.00,149.72 L670.95,149.22 L670.90,148.70 L670.85,148.19 L670.80,147.69 L670.76,147.19 L670.72,146.67 L670.69,146.17 L670.66,145.66 L670.63,145.15 L670.60,144.64 L670.58,144.14 L670.56,143.63 L670.55,143.12 L670.54,142.62 L670.53,142.11 L670.53,141.70" fill="none" stroke="#ff3414" stroke-width="3.1" stroke-dasharray="5.3 5.5" stroke-linecap="round"/>
<path d="M250.04,142.43 L249.00,143.03 L249.00,285.00" fill="none" stroke="#ff3a12" stroke-width="2.1"/>
<path d="M249.00,260.20 Q246.80,252.20 243.50,244.20 L249.00,248.70 L254.50,244.20 Q251.20,252.20 249.00,260.20Z" fill="#ff3a12"/>
<path d="M460.29,142.06 L459.70,142.66 L459.70,284.74" fill="none" stroke="#ff3a12" stroke-width="2.1"/>
<path d="M459.70,259.60 Q457.50,251.60 454.20,243.60 L459.70,248.10 L465.20,243.60 Q461.90,251.60 459.70,259.60Z" fill="#ff3a12"/>
<path d="M670.53,141.70 L670.65,142.30 L670.65,284.62" fill="none" stroke="#ff3a12" stroke-width="2.1"/>
<path d="M670.65,259.50 Q668.45,251.50 665.15,243.50 L670.65,248.00 L676.15,243.50 Q672.85,251.50 670.65,259.50Z" fill="#ff3a12"/>
<path d="M275.68,273.41 L274.30,272.81 L274.30,129.56" fill="none" stroke="#ff3a12" stroke-width="2.1"/>
<path d="M274.30,152.00 Q276.50,160.00 279.80,168.00 L274.30,163.50 L268.80,168.00 Q272.10,160.00 274.30,152.00Z" fill="#ff3a12"/>
<path d="M486.77,273.79 L487.00,273.19 L487.00,130.79" fill="none" stroke="#ff3a12" stroke-width="2.1"/>
<path d="M487.00,153.80 Q489.20,161.80 492.50,169.80 L487.00,165.30 L481.50,169.80 Q484.80,161.80 487.00,153.80Z" fill="#ff3a12"/>
<path d="M697.86,274.14 L698.80,273.54 L698.80,131.31" fill="none" stroke="#ff3a12" stroke-width="2.1"/>
<path d="M698.80,152.30 Q701.00,160.30 704.30,168.30 L698.80,163.80 L693.30,168.30 Q696.60,160.30 698.80,152.30Z" fill="#ff3a12"/>
<path d="M157.50,207.90 L158.18,208.53 L158.85,209.17 L159.53,209.80 L160.21,210.43 L160.88,211.07 L161.56,211.70 L162.24,212.33 L162.91,212.97 L163.59,213.60 L164.26,214.23 L164.94,214.86 L165.62,215.50 L166.29,216.13 L166.97,216.76 L167.64,217.39 L168.32,218.02 L168.99,218.65 L169.66,219.28 L170.34,219.90 L171.01,220.53 L171.68,221.16 L172.35,221.78 L173.03,222.41 L173.70,223.03 L174.37,223.66 L175.04,224.28 L175.71,224.90 L176.38,225.52 L177.05,226.14 L177.71,226.76 L178.38,227.38 L179.05,227.99 L179.71,228.61 L180.38,229.22 L181.04,229.84 L181.71,230.45 L182.37,231.06 L183.06,231.69 L183.74,232.32 L184.43,232.95 L185.11,233.58 L185.80,234.21 L186.48,234.83 L187.16,235.46 L187.84,236.08 L188.52,236.70 L189.20,237.32 L189.88,237.94 L190.56,238.55 L191.23,239.16 L191.91,239.78 L192.58,240.39 L193.25,240.99 L193.92,241.60 L194.59,242.20 L195.28,242.83 L195.98,243.45 L196.67,244.07 L197.35,244.68 L198.04,245.30 L198.73,245.91 L199.41,246.52 L200.09,247.13 L200.77,247.73 L201.45,248.33 L202.13,248.93 L202.80,249.53 L203.50,250.14 L204.20,250.75 L204.89,251.36 L205.59,251.97 L206.28,252.57 L206.96,253.17 L207.65,253.77 L208.34,254.36 L209.02,254.95 L209.72,255.56 L210.42,256.16 L211.12,256.76 L211.82,257.36 L212.51,257.95 L213.20,258.54 L213.89,259.12 L214.60,259.72 L215.31,260.32 L216.01,260.91 L216.72,261.49 L217.42,262.08 L218.11,262.65 L218.83,263.25 L219.54,263.83 L220.25,264.42 L220.96,264.99 L221.66,265.56 L222.36,266.13 L223.08,266.71 L223.79,267.29 L224.50,267.85 L225.21,268.42 L225.94,268.99 L226.66,269.56 L227.37,270.12 L228.09,270.67 L228.82,271.24 L229.54,271.80 L230.27,272.35 L230.98,272.89 L231.72,273.45 L232.44,273.99 L233.17,274.53 L233.91,275.07 L234.64,275.61 L235.39,276.15 L236.13,276.68 L236.87,277.21 L237.62,277.74 L238.36,278.26 L239.12,278.78 L239.87,279.30 L240.63,279.81 L241.39,280.31 L242.15,280.82 L242.91,281.31 L243.68,281.81 L244.44,282.29 L245.21,282.77 L245.99,283.24 L246.78,283.72 L247.56,284.17 L248.34,284.63 L249.14,285.07 L249.93,285.51 L250.74,285.94 L251.54,286.36 L252.35,286.77 L253.17,287.16 L253.99,287.55 L254.82,287.92 L255.65,288.27 L256.49,288.61 L257.34,288.94 L258.20,289.24 L259.07,289.52 L259.94,289.78 L260.82,290.01 L261.70,290.20 L262.60,290.36 L263.49,290.48 L264.39,290.55 L265.30,290.56 L266.20,290.52 L267.10,290.40 L267.98,290.21 L268.83,289.93 L269.66,289.56 L270.45,289.10 L271.17,288.56 L271.82,287.94 L272.42,287.25 L272.94,286.51 L273.40,285.73 L273.80,284.92 L274.15,284.08 L274.45,283.23 L274.70,282.36 L274.92,281.48 L275.10,280.59 L275.25,279.69 L275.38,278.80 L275.48,277.90 L275.55,277.00 L275.61,276.09 L275.65,275.18 L275.67,274.28 L275.68,273.41" fill="none" stroke="#ff3a12" stroke-width="3.0" stroke-linejoin="round" stroke-linecap="round"/>
<path d="M250.04,142.43 L250.05,141.52 L250.07,140.61 L250.11,139.70 L250.17,138.80 L250.24,137.90 L250.34,137.00 L250.47,136.10 L250.62,135.20 L250.80,134.32 L251.02,133.44 L251.27,132.57 L251.57,131.71 L251.92,130.87 L252.32,130.06 L252.78,129.28 L253.30,128.54 L253.89,127.85 L254.55,127.24 L255.28,126.69 L256.06,126.23 L256.88,125.86 L257.74,125.59 L258.63,125.39 L259.53,125.28 L260.43,125.24 L261.34,125.26 L262.24,125.33 L263.13,125.45 L264.02,125.61 L264.91,125.81 L265.78,126.04 L266.65,126.30 L267.51,126.58 L268.37,126.89 L269.22,127.22 L270.06,127.56 L270.90,127.92 L271.72,128.30 L272.55,128.69 L273.36,129.08 L274.17,129.49 L274.97,129.91 L275.77,130.35 L276.57,130.79 L277.36,131.23 L278.14,131.69 L278.92,132.15 L279.71,132.62 L280.48,133.10 L281.25,133.58 L282.01,134.07 L282.78,134.56 L283.54,135.06 L284.30,135.56 L285.06,136.07 L285.82,136.59 L286.57,137.10 L287.32,137.63 L288.06,138.15 L288.81,138.68 L289.55,139.20 L290.29,139.74 L291.04,140.28 L291.77,140.82 L292.51,141.37 L293.23,141.91 L293.96,142.45 L294.69,143.01 L295.40,143.55 L296.12,144.10 L296.85,144.66 L297.58,145.23 L298.29,145.79 L299.01,146.35 L299.73,146.92 L300.45,147.49 L301.16,148.06 L301.87,148.62 L302.59,149.20 L303.30,149.78 L304.00,150.35 L304.71,150.92 L305.41,151.50 L306.12,152.08 L306.83,152.67 L307.55,153.26 L308.24,153.84 L308.94,154.43 L309.64,155.01 L310.35,155.61 L311.06,156.20 L311.77,156.80 L312.46,157.39 L313.15,157.98 L313.84,158.57 L314.54,159.17 L315.24,159.77 L315.94,160.37 L316.64,160.98 L317.33,161.57 L318.01,162.16 L318.70,162.76 L319.39,163.36 L320.08,163.96 L320.77,164.57 L321.47,165.18 L322.16,165.79 L322.86,166.41 L323.54,167.00 L324.22,167.60 L324.90,168.21 L325.58,168.81 L326.26,169.42 L326.95,170.03 L327.63,170.64 L328.32,171.26 L329.01,171.87 L329.70,172.49 L330.40,173.12 L331.07,173.72 L331.74,174.32 L332.41,174.93 L333.08,175.54 L333.76,176.14 L334.43,176.76 L335.11,177.37 L335.79,177.99 L336.47,178.60 L337.15,179.22 L337.83,179.84 L338.51,180.47 L339.20,181.09 L339.88,181.72 L340.57,182.34 L341.25,182.97 L341.94,183.60 L342.61,184.21 L343.27,184.82 L343.93,185.43 L344.60,186.04 L345.27,186.66 L345.93,187.27 L346.60,187.89 L347.27,188.50 L347.94,189.12 L348.61,189.74 L349.28,190.36 L349.95,190.98 L350.63,191.60 L351.30,192.22 L351.97,192.85 L352.65,193.47 L353.32,194.10 L354.00,194.72 L354.67,195.35 L355.35,195.98 L356.03,196.61 L356.70,197.23 L357.38,197.86 L358.06,198.49 L358.74,199.12 L359.41,199.75 L360.09,200.38 L360.77,201.02 L361.45,201.65 L362.13,202.28 L362.81,202.91 L363.49,203.55 L364.17,204.18 L364.85,204.81 L365.53,205.45 L366.21,206.08 L366.89,206.71 L367.57,207.35 L368.25,207.98 L368.93,208.62 L369.62,209.25 L370.30,209.88 L370.98,210.52 L371.66,211.15 L372.34,211.78 L373.02,212.42 L373.70,213.05 L374.38,213.68 L375.06,214.31 L375.74,214.95 L376.42,215.58 L377.10,216.21 L377.78,216.84 L378.46,217.47 L379.13,218.10 L379.81,218.73 L380.49,219.36 L381.17,219.98 L381.84,220.61 L382.52,221.24 L383.20,221.86 L383.87,222.49 L384.55,223.11 L385.22,223.74 L385.90,224.36 L386.57,224.98 L387.24,225.60 L387.92,226.22 L388.59,226.84 L389.26,227.46 L389.93,228.07 L390.60,228.69 L391.27,229.30 L391.94,229.91 L392.60,230.53 L393.27,231.14 L393.94,231.75 L394.60,232.35 L395.29,232.98 L395.98,233.61 L396.67,234.24 L397.35,234.86 L398.04,235.49 L398.73,236.11 L399.41,236.73 L400.09,237.35 L400.77,237.97 L401.45,238.58 L402.13,239.19 L402.81,239.81 L403.49,240.42 L404.16,241.02 L404.84,241.63 L405.51,242.23 L406.18,242.83 L406.88,243.45 L407.57,244.07 L408.26,244.69 L408.96,245.30 L409.65,245.92 L410.33,246.53 L411.02,247.13 L411.70,247.74 L412.39,248.34 L413.07,248.94 L413.75,249.53 L414.42,250.13 L415.13,250.74 L415.82,251.35 L416.52,251.96 L417.21,252.56 L417.91,253.16 L418.60,253.75 L419.28,254.35 L419.97,254.94 L420.65,255.52 L421.36,256.13 L422.06,256.73 L422.76,257.32 L423.46,257.92 L424.16,258.50 L424.85,259.09 L425.54,259.67 L426.25,260.26 L426.96,260.86 L427.67,261.44 L428.37,262.03 L429.07,262.60 L429.77,263.18 L430.48,263.77 L431.20,264.35 L431.91,264.93 L432.61,265.50 L433.32,266.07 L434.04,266.65 L434.76,267.22 L435.48,267.79 L436.19,268.35 L436.89,268.91 L437.62,269.48 L438.34,270.04 L439.06,270.60 L439.77,271.15 L440.50,271.71 L441.23,272.26 L441.95,272.80 L442.69,273.36 L443.42,273.90 L444.15,274.44 L444.89,274.99 L445.63,275.53 L446.36,276.06 L447.11,276.59 L447.85,277.12 L448.60,277.65 L449.35,278.17 L450.09,278.68 L450.85,279.20 L451.60,279.70 L452.36,280.21 L453.11,280.70 L453.88,281.20 L454.65,281.70 L455.42,282.18 L456.19,282.66 L456.98,283.14 L457.75,283.61 L458.54,284.07 L459.33,284.52 L460.12,284.97 L460.93,285.42 L461.73,285.85 L462.55,286.27 L463.36,286.68 L464.18,287.08 L465.00,287.47 L465.83,287.84 L466.67,288.20 L467.51,288.55 L468.36,288.87 L469.21,289.18 L470.07,289.46 L470.93,289.72 L471.81,289.96 L472.69,290.16 L473.58,290.33 L474.48,290.45 L475.38,290.54 L476.28,290.56 L477.19,290.53 L478.09,290.43 L478.98,290.26 L479.84,290.00 L480.67,289.65 L481.47,289.21 L482.20,288.68 L482.88,288.07 L483.48,287.40 L484.01,286.67 L484.48,285.90 L484.89,285.09 L485.24,284.25 L485.54,283.40 L485.80,282.53 L486.02,281.64 L486.21,280.75 L486.36,279.86 L486.48,278.96 L486.58,278.05 L486.65,277.14 L486.71,276.23 L486.74,275.32 L486.76,274.42 L486.77,273.79" fill="none" stroke="#ff3a12" stroke-width="3.0" stroke-linejoin="round" stroke-linecap="round"/>
<path d="M460.29,142.06 L460.29,141.16 L460.32,140.25 L460.36,139.35 L460.42,138.44 L460.50,137.54 L460.60,136.64 L460.73,135.74 L460.89,134.85 L461.08,133.96 L461.30,133.09 L461.57,132.23 L461.88,131.37 L462.24,130.55 L462.66,129.74 L463.14,128.97 L463.69,128.26 L464.31,127.60 L464.99,127.00 L465.73,126.49 L466.53,126.07 L467.37,125.74 L468.24,125.50 L469.14,125.34 L470.04,125.25 L470.94,125.24 L471.84,125.28 L472.74,125.37 L473.64,125.51 L474.53,125.69 L475.42,125.90 L476.29,126.14 L477.15,126.41 L478.01,126.71 L478.87,127.02 L479.71,127.35 L480.54,127.70 L481.38,128.07 L482.20,128.44 L483.02,128.84 L483.84,129.24 L484.65,129.66 L485.45,130.08 L486.24,130.51 L487.04,130.96 L487.84,131.41 L488.63,131.87 L489.41,132.34 L490.19,132.81 L490.96,133.28 L491.73,133.76 L492.50,134.25 L493.27,134.75 L494.04,135.25 L494.79,135.75 L495.55,136.26 L496.30,136.77 L497.05,137.29 L497.79,137.80 L498.54,138.33 L499.28,138.85 L500.02,139.38 L500.76,139.91 L501.49,140.45 L502.23,140.99 L502.97,141.54 L503.70,142.08 L504.43,142.63 L505.17,143.18 L505.89,143.73 L506.62,144.28 L507.35,144.85 L508.06,145.40 L508.78,145.96 L509.50,146.52 L510.23,147.09 L510.93,147.65 L511.65,148.22 L512.36,148.79 L513.08,149.36 L513.80,149.95 L514.51,150.51 L515.21,151.09 L515.92,151.67 L516.64,152.25 L517.35,152.84 L518.05,153.42 L518.75,154.00 L519.46,154.58 L520.16,155.17 L520.87,155.77 L521.58,156.36 L522.27,156.94 L522.97,157.53 L523.66,158.12 L524.36,158.71 L525.06,159.31 L525.77,159.91 L526.47,160.52 L527.16,161.11 L527.85,161.70 L528.54,162.29 L529.23,162.89 L529.92,163.49 L530.62,164.09 L531.31,164.70 L532.01,165.31 L532.71,165.93 L533.39,166.52 L534.07,167.12 L534.76,167.72 L535.44,168.32 L536.13,168.93 L536.81,169.53 L537.50,170.15 L538.19,170.76 L538.89,171.37 L539.58,171.99 L540.28,172.61 L540.95,173.21 L541.62,173.81 L542.30,174.42 L542.97,175.02 L543.65,175.63 L544.33,176.24 L545.01,176.86 L545.69,177.47 L546.37,178.08 L547.06,178.70 L547.74,179.32 L548.43,179.94 L549.11,180.57 L549.80,181.19 L550.49,181.82 L551.18,182.44 L551.87,183.07 L552.54,183.68 L553.21,184.29 L553.87,184.90 L554.54,185.51 L555.21,186.12 L555.88,186.73 L556.56,187.35 L557.23,187.97 L557.90,188.58 L558.57,189.20 L559.25,189.82 L559.92,190.44 L560.60,191.06 L561.28,191.68 L561.95,192.30 L562.63,192.93 L563.31,193.55 L563.99,194.18 L564.67,194.80 L565.35,195.43 L566.03,196.06 L566.71,196.69 L567.39,197.31 L568.07,197.94 L568.75,198.57 L569.43,199.20 L570.12,199.83 L570.80,200.47 L571.48,201.10 L572.17,201.73 L572.85,202.36 L573.53,202.99 L574.22,203.63 L574.90,204.26 L575.59,204.89 L576.27,205.53 L576.95,206.16 L577.64,206.79 L578.32,207.43 L579.01,208.06 L579.69,208.70 L580.38,209.33 L581.06,209.96 L581.75,210.60 L582.43,211.23 L583.12,211.86 L583.80,212.50 L584.49,213.13 L585.17,213.76 L585.85,214.39 L586.54,215.03 L587.22,215.66 L587.91,216.29 L588.59,216.92 L589.27,217.55 L589.95,218.18 L590.64,218.81 L591.32,219.44 L592.00,220.06 L592.68,220.69 L593.36,221.32 L594.04,221.94 L594.72,222.57 L595.40,223.19 L596.08,223.82 L596.76,224.44 L597.43,225.06 L598.11,225.68 L598.79,226.30 L599.46,226.92 L600.14,227.53 L600.81,228.15 L601.48,228.77 L602.16,229.38 L602.83,229.99 L603.50,230.60 L604.17,231.22 L604.84,231.82 L605.51,232.43 L606.18,233.04 L606.85,233.64 L607.54,234.27 L608.23,234.90 L608.92,235.52 L609.61,236.14 L610.29,236.76 L610.98,237.38 L611.67,238.00 L612.35,238.61 L613.03,239.22 L613.72,239.84 L614.40,240.45 L615.08,241.05 L615.76,241.66 L616.43,242.26 L617.11,242.86 L617.78,243.46 L618.48,244.08 L619.18,244.70 L619.87,245.31 L620.56,245.92 L621.26,246.53 L621.95,247.14 L622.63,247.74 L623.32,248.35 L624.01,248.95 L624.69,249.54 L625.37,250.14 L626.05,250.73 L626.75,251.34 L627.45,251.94 L628.15,252.54 L628.85,253.14 L629.54,253.74 L630.23,254.33 L630.92,254.92 L631.61,255.51 L632.30,256.09 L633.00,256.69 L633.71,257.29 L634.41,257.88 L635.11,258.47 L635.81,259.06 L636.50,259.64 L637.19,260.21 L637.91,260.81 L638.62,261.39 L639.32,261.98 L640.03,262.56 L640.73,263.13 L641.43,263.70 L642.15,264.28 L642.86,264.86 L643.57,265.43 L644.28,266.00 L644.98,266.57 L645.71,267.14 L646.43,267.71 L647.14,268.27 L647.85,268.83 L648.58,269.40 L649.31,269.97 L650.03,270.52 L650.75,271.07 L651.48,271.63 L652.21,272.19 L652.94,272.73 L653.66,273.27 L654.40,273.82 L655.13,274.36 L655.86,274.89 L656.60,275.43 L657.33,275.96 L658.09,276.50 L658.83,277.03 L659.57,277.55 L660.32,278.07 L661.07,278.58 L661.83,279.10 L662.58,279.61 L663.35,280.12 L664.11,280.61 L664.87,281.11 L665.63,281.60 L666.41,282.08 L667.19,282.57 L667.96,283.04 L668.74,283.51 L669.53,283.97 L670.32,284.43 L671.11,284.88 L671.90,285.31 L672.70,285.74 L673.50,286.16 L674.31,286.57 L675.11,286.97 L675.94,287.36 L676.77,287.74 L677.59,288.09 L678.43,288.44 L679.28,288.78 L680.13,289.09 L680.98,289.37 L681.85,289.64 L682.72,289.88 L683.60,290.10 L684.49,290.28 L685.38,290.42 L686.28,290.51 L687.19,290.56 L688.09,290.55 L688.99,290.48 L689.88,290.32 L690.76,290.09 L691.60,289.77 L692.41,289.36 L693.16,288.86 L693.85,288.27 L694.48,287.61 L695.03,286.89 L695.52,286.13 L695.94,285.33 L696.31,284.49 L696.62,283.64 L696.88,282.78 L697.11,281.89 L697.30,281.00 L697.45,280.10 L697.57,279.21 L697.67,278.31 L697.75,277.41 L697.80,276.51 L697.84,275.61 L697.86,274.70 L697.86,274.14" fill="none" stroke="#ff3a12" stroke-width="3.0" stroke-linejoin="round" stroke-linecap="round"/>
<path d="M670.53,141.70 L670.54,140.79 L670.56,139.89 L670.60,138.98 L670.67,138.08 L670.75,137.17 L670.86,136.27 L670.99,135.38 L671.16,134.48 L671.36,133.59 L671.60,132.71 L671.88,131.85 L672.20,131.01 L672.59,130.19 L673.03,129.40 L673.54,128.65 L674.11,127.95 L674.76,127.31 L675.47,126.76 L676.25,126.28 L677.07,125.90 L677.92,125.61 L678.80,125.41 L679.70,125.29 L680.60,125.24 L681.50,125.25 L682.41,125.32 L683.30,125.43 L684.19,125.59 L685.07,125.78 L685.96,126.01 L686.83,126.26 L687.69,126.54 L688.55,126.85 L689.40,127.17 L690.24,127.51 L691.07,127.86 L691.90,128.23 L692.73,128.62 L693.54,129.01 L694.35,129.42 L695.16,129.84 L695.96,130.26 L696.76,130.70 L697.56,131.15 L698.34,131.60 L699.12,132.05 L699.91,132.53 L700.70,133.00 L701.47,133.48 L702.23,133.96 L703.01,134.45 L703.77,134.94 L704.54,135.45 L705.30,135.95 L706.06,136.47 L706.82,136.98 L707.58,137.50 L708.32,138.02 L709.08,138.55 L709.82,139.07 L710.56,139.61 L711.30,140.13 L712.03,140.67 L712.78,141.21 L713.51,141.75 L714.24,142.29 L714.98,142.85 L715.70,143.39 L716.42,143.94 L717.16,144.50 L717.87,145.04 L718.59,145.60 L719.31,146.16 L720.04,146.73 L720.75,147.28 L721.46,147.84 L722.18,148.41 L722.90,148.98 L723.62,149.56 L724.33,150.13 L725.03,150.70 L725.75,151.28 L726.46,151.86 L727.18,152.44 L727.88,153.02 L728.58,153.59 L729.29,154.17 L729.99,154.76 L730.71,155.35 L731.42,155.94 L732.11,156.52 L732.81,157.11 L733.51,157.69 L734.21,158.29 L734.91,158.88 L735.62,159.48 L736.32,160.08 L737.01,160.67 L737.70,161.26 L738.39,161.85 L739.09,162.44 L739.78,163.04 L740.48,163.64 L741.18,164.25 L741.88,164.86 L742.58,165.47 L743.27,166.06 L743.95,166.66 L744.63,167.25 L745.32,167.85 L746.01,168.46 L746.70,169.06 L747.39,169.67 L748.08,170.28 L748.78,170.90 L749.48,171.51 L750.17,172.13 L750.85,172.73 L751.53,173.33 L752.20,173.93 L752.88,174.54 L753.56,175.14 L754.24,175.75 L754.93,176.36 L755.61,176.98 L756.30,177.59 L756.98,178.21 L757.67,178.82 L758.36,179.44 L759.05,180.07 L759.74,180.69 L760.43,181.31 L761.13,181.94 L761.80,182.54 L762.46,183.15 L763.14,183.76 L763.81,184.37 L764.48,184.98 L765.15,185.59 L765.83,186.20 L766.50,186.81 L767.18,187.43 L767.85,188.04 L768.53,188.66 L769.21,189.28 L769.89,189.90 L770.57,190.52 L771.25,191.14 L771.93,191.76 L772.61,192.38 L773.29,193.01 L773.97,193.63 L774.65,194.26 L775.34,194.88 L776.02,195.51 L776.70,196.14 L777.39,196.77 L778.07,197.40 L778.76,198.02 L779.45,198.65 L780.13,199.28 L780.82,199.92 L781.51,200.55 L782.19,201.18 L782.88,201.81 L783.57,202.44 L784.26,203.08 L784.94,203.71 L785.63,204.34 L786.32,204.98 L787.01,205.61 L787.70,206.24 L788.39,206.88 L789.05,207.49 L789.50,207.90" fill="none" stroke="#ff3a12" stroke-width="3.0" stroke-linejoin="round" stroke-linecap="round"/>
<path d="M311.57,342.31 L311.57,341.81 L311.55,341.30 L311.53,340.79 L311.50,340.29 L311.47,339.77 L311.43,339.26 L311.38,338.76 L311.33,338.25 L311.27,337.75 L311.21,337.24 L311.14,336.75 L311.07,336.24 L310.99,335.73 L310.92,335.22 L310.83,334.72 L310.75,334.22 L310.66,333.72 L310.56,333.21 L310.47,332.72 L310.37,332.22 L310.27,331.72 L310.16,331.21 L310.06,330.72 L309.95,330.22 L309.84,329.71 L309.72,329.20 L309.61,328.72 L309.49,328.22 L309.37,327.72 L309.25,327.22 L309.12,326.71 L309.00,326.22 L308.87,325.73 L308.74,325.23 L308.61,324.73 L308.48,324.22 L308.34,323.71 L308.21,323.22 L308.07,322.73 L307.93,322.24 L307.79,321.74 L307.65,321.24 L307.50,320.73 L307.36,320.22 L307.21,319.74 L307.07,319.25 L306.92,318.76 L306.78,318.27 L306.63,317.77 L306.47,317.27 L306.32,316.76 L306.16,316.26 L306.01,315.78 L305.86,315.30 L305.71,314.81 L305.55,314.32 L305.40,313.83 L305.24,313.34 L305.08,312.84 L304.92,312.34 L304.75,311.84 L304.58,311.33 L304.42,310.82 L304.26,310.35 L304.10,309.87 L303.94,309.39 L303.77,308.90 L303.61,308.41 L303.44,307.92 L303.27,307.43 L303.11,306.94 L302.93,306.44 L302.76,305.94 L302.59,305.44 L302.41,304.94 L302.24,304.43 L302.07,303.96 L301.90,303.48 L301.73,303.01 L301.56,302.53 L301.39,302.05 L301.22,301.57 L301.05,301.08 L300.87,300.59 L300.70,300.11 L300.52,299.62 L300.34,299.12 L300.16,298.63 L299.98,298.13 L299.80,297.63 L299.61,297.13 L299.43,296.63 L299.24,296.13 L299.06,295.62 L298.87,295.12 L298.69,294.64 L298.52,294.17 L298.34,293.70 L298.16,293.22 L297.98,292.75 L297.80,292.27 L297.62,291.79 L297.44,291.31 L297.26,290.83 L297.07,290.34 L296.89,289.86 L296.70,289.37 L296.51,288.88 L296.33,288.39 L296.14,287.90 L295.95,287.40 L295.76,286.91 L295.57,286.41 L295.37,285.91 L295.18,285.42 L294.99,284.91 L294.79,284.41 L294.59,283.91 L294.40,283.40 L294.20,282.90 L294.00,282.39 L293.82,281.92 L293.63,281.46 L293.45,280.99 L293.26,280.52 L293.08,280.05 L292.89,279.57 L292.70,279.10 L292.52,278.63 L292.33,278.15 L292.14,277.67 L291.95,277.19 L291.76,276.72 L291.56,276.24 L291.37,275.75 L291.18,275.27 L290.99,274.79 L290.79,274.30 L290.60,273.82 L290.40,273.33 L290.20,272.84 L290.01,272.36 L289.81,271.87 L289.61,271.38 L289.41,270.88 L289.21,270.39 L289.01,269.90 L288.81,269.40 L288.61,268.91 L288.41,268.41 L288.21,267.91 L288.00,267.42 L287.80,266.92 L287.59,266.42 L287.39,265.91 L287.18,265.41 L286.98,264.91 L286.77,264.40 L286.56,263.90 L286.36,263.39 L286.15,262.89 L285.94,262.38 L285.73,261.87 L285.54,261.41 L285.35,260.94 L285.15,260.48 L284.96,260.02 L284.77,259.55 L284.58,259.08 L284.38,258.62 L284.19,258.15 L283.99,257.68 L283.80,257.21 L283.60,256.74 L283.41,256.27 L283.21,255.80 L283.01,255.33 L282.82,254.85 L282.62,254.38 L282.42,253.91 L282.22,253.43 L282.03,252.96 L281.83,252.48 L281.63,252.01 L281.43,251.53 L281.23,251.05 L281.03,250.58 L280.83,250.10 L280.63,249.62 L280.42,249.14 L280.22,248.66 L280.02,248.18 L279.82,247.70 L279.61,247.22 L279.41,246.73 L279.21,246.25 L279.00,245.77 L278.80,245.28 L278.60,244.80 L278.39,244.32 L278.19,243.83 L277.98,243.34 L277.78,242.86 L277.57,242.37 L277.36,241.89 L277.16,241.40 L276.95,240.91 L276.74,240.42 L276.54,239.93 L276.33,239.44 L276.12,238.95 L275.91,238.46 L275.70,237.97 L275.50,237.48 L275.29,236.99 L275.08,236.50 L274.87,236.01 L274.66,235.51 L274.45,235.02 L274.24,234.53 L274.03,234.03 L273.82,233.54 L273.61,233.05 L273.40,232.55 L273.19,232.06 L272.97,231.56 L272.76,231.07 L272.55,230.57 L272.34,230.07 L272.13,229.58 L271.91,229.08 L271.70,228.58 L271.49,228.09 L271.28,227.59 L271.06,227.09 L270.85,226.59 L270.64,226.09 L270.42,225.60 L270.21,225.10 L270.00,224.60 L269.78,224.10 L269.57,223.60 L269.36,223.10 L269.14,222.60 L268.93,222.10 L268.71,221.60 L268.50,221.10 L268.28,220.60 L268.07,220.10 L267.85,219.60 L267.64,219.10 L267.42,218.59 L267.21,218.09 L266.99,217.59 L266.78,217.09 L266.56,216.59 L266.35,216.08 L266.13,215.58 L265.92,215.08 L265.70,214.58 L265.48,214.08 L265.27,213.57 L265.05,213.07 L264.84,212.57 L264.62,212.07 L264.41,211.56 L264.19,211.06 L263.97,210.56 L263.76,210.05 L263.54,209.55 L263.33,209.05 L263.11,208.55 L262.89,208.04 L262.68,207.54 L262.46,207.04 L262.25,206.53 L262.03,206.03 L261.82,205.53 L261.60,205.02 L261.38,204.52 L261.17,204.02 L260.95,203.52 L260.74,203.01 L260.52,202.51 L260.31,202.01 L260.09,201.51 L259.87,201.00 L259.66,200.50 L259.44,200.00 L259.23,199.50 L259.01,199.00 L258.80,198.49 L258.58,197.99 L258.37,197.49 L258.15,196.99 L257.94,196.49 L257.72,195.99 L257.51,195.49 L257.29,194.98 L257.08,194.48 L256.87,193.98 L256.65,193.48 L256.44,192.98 L256.22,192.48 L256.01,191.98 L255.80,191.48 L255.58,190.99 L255.37,190.49 L255.16,189.99 L254.95,189.49 L254.73,188.99 L254.52,188.49 L254.31,188.00 L254.10,187.50 L253.88,187.00 L253.67,186.50 L253.46,186.01 L253.25,185.51 L253.04,185.01 L252.83,184.52 L252.62,184.02 L252.41,183.53 L252.19,183.03 L251.98,182.54 L251.77,182.04 L251.57,181.55 L251.36,181.06 L251.15,180.56 L250.94,180.07 L250.73,179.58 L250.52,179.09 L250.31,178.60 L250.10,178.11 L249.90,177.61 L249.69,177.12 L249.48,176.63 L249.27,176.14 L249.07,175.66 L248.86,175.17 L248.66,174.68 L248.45,174.19 L248.24,173.70 L248.04,173.22 L247.83,172.73 L247.63,172.24 L247.43,171.76 L247.22,171.27 L247.02,170.79 L246.81,170.31 L246.61,169.82 L246.41,169.34 L246.21,168.86 L246.00,168.38 L245.80,167.89 L245.60,167.41 L245.40,166.93 L245.20,166.45 L245.00,165.97 L244.80,165.49 L244.60,165.02 L244.40,164.54 L244.20,164.06 L244.00,163.59 L243.81,163.11 L243.61,162.64 L243.41,162.16 L243.21,161.69 L243.02,161.21 L242.82,160.74 L242.63,160.27 L242.43,159.80 L242.24,159.33 L242.04,158.86 L241.85,158.39 L241.65,157.92 L241.46,157.45 L241.27,156.98 L241.08,156.51 L240.88,156.05 L240.69,155.58 L240.50,155.12 L240.31,154.65 L240.12,154.19 L239.93,153.73 L239.72,153.22 L239.52,152.71 L239.31,152.21 L239.10,151.70 L238.90,151.20 L238.69,150.69 L238.49,150.19 L238.28,149.69 L238.08,149.19 L237.88,148.69 L237.68,148.19 L237.47,147.69 L237.27,147.19 L237.07,146.70 L236.87,146.20 L236.67,145.71 L236.48,145.21 L236.28,144.72 L236.08,144.23 L235.88,143.74 L235.69,143.25 L235.49,142.76 L235.30,142.28 L235.11,141.79 L234.91,141.31 L234.72,140.82 L234.53,140.34 L234.34,139.86 L234.15,139.38 L233.96,138.90 L233.77,138.42 L233.58,137.94 L233.39,137.46 L233.20,136.99 L233.02,136.51 L232.83,136.04 L232.65,135.57 L232.46,135.10 L232.28,134.63 L232.10,134.16 L231.92,133.69 L231.74,133.23 L231.54,132.72 L231.34,132.21 L231.15,131.71 L230.95,131.21 L230.76,130.70 L230.57,130.20 L230.38,129.71 L230.19,129.21 L230.00,128.71 L229.81,128.22 L229.62,127.73 L229.44,127.23 L229.25,126.74 L229.07,126.26 L228.88,125.77 L228.70,125.28 L228.52,124.80 L228.34,124.32 L228.16,123.84 L227.98,123.36 L227.80,122.88 L227.62,122.40 L227.45,121.93 L227.27,121.46 L227.10,120.99 L226.93,120.52 L226.74,120.01 L226.56,119.50 L226.37,119.00 L226.19,118.50 L226.01,118.00 L225.83,117.50 L225.65,117.01 L225.48,116.51 L225.30,116.02 L225.12,115.53 L224.95,115.04 L224.78,114.56 L224.61,114.07 L224.44,113.59 L224.27,113.11 L224.10,112.63 L223.94,112.16 L223.77,111.68 L223.60,111.18 L223.42,110.67 L223.25,110.17 L223.08,109.67 L222.91,109.17 L222.74,108.67 L222.57,108.18 L222.41,107.69 L222.24,107.20 L222.08,106.71 L221.92,106.23 L221.76,105.75 L221.61,105.27 L221.45,104.79 L221.29,104.29 L221.12,103.78 L220.96,103.28 L220.80,102.78 L220.64,102.29 L220.49,101.79 L220.33,101.30 L220.18,100.82 L220.03,100.33 L219.88,99.85 L219.73,99.34 L219.57,98.84 L219.42,98.33 L219.27,97.83 L219.13,97.34 L218.98,96.84 L218.84,96.35 L218.70,95.87 L218.56,95.39 L218.41,94.88 L218.27,94.37 L218.13,93.87 L218.00,93.38 L217.86,92.88 L217.73,92.39 L217.60,91.91 L217.47,91.40 L217.33,90.90 L217.21,90.40 L217.08,89.90 L216.96,89.41 L216.84,88.92 L216.71,88.41 L216.59,87.91 L216.48,87.41 L216.36,86.92 L216.25,86.41 L216.14,85.90 L216.03,85.40 L215.92,84.90 L215.82,84.41 L215.72,83.90 L215.62,83.40 L215.53,82.91 L215.43,82.39 L215.34,81.89 L215.26,81.39 L215.17,80.88 L215.09,80.37 L215.02,79.87 L214.94,79.36 L214.88,78.86 L214.81,78.35 L214.75,77.84 L214.70,77.32 L214.65,76.82 L214.61,76.31 L214.57,75.80 L214.54,75.29 L214.52,74.77 L214.50,74.27 L214.50,73.76 L214.49,73.56" fill="none" stroke="#0d70c5" stroke-width="2.1" stroke-dasharray="6.2 6.8" stroke-linecap="butt"/>
<path d="M523.10,342.50 L523.10,341.99 L523.09,341.48 L523.06,340.98 L523.04,340.48 L523.00,339.97 L522.96,339.46 L522.91,338.95 L522.86,338.44 L522.80,337.93 L522.73,337.42 L522.66,336.91 L522.59,336.40 L522.51,335.89 L522.43,335.39 L522.35,334.89 L522.25,334.37 L522.16,333.87 L522.07,333.37 L521.97,332.85 L521.87,332.36 L521.76,331.86 L521.66,331.35 L521.55,330.86 L521.44,330.36 L521.32,329.86 L521.20,329.35 L521.09,328.86 L520.97,328.37 L520.85,327.87 L520.72,327.37 L520.59,326.86 L520.47,326.37 L520.34,325.88 L520.21,325.39 L520.07,324.89 L519.94,324.38 L519.80,323.87 L519.66,323.39 L519.52,322.90 L519.38,322.41 L519.24,321.91 L519.10,321.41 L518.95,320.90 L518.80,320.39 L518.65,319.91 L518.51,319.43 L518.36,318.94 L518.21,318.44 L518.06,317.95 L517.90,317.45 L517.74,316.94 L517.58,316.44 L517.43,315.96 L517.28,315.48 L517.12,314.99 L516.97,314.51 L516.81,314.02 L516.65,313.52 L516.48,313.03 L516.32,312.53 L516.15,312.03 L515.98,311.52 L515.81,311.02 L515.65,310.54 L515.49,310.06 L515.32,309.58 L515.16,309.10 L514.99,308.61 L514.82,308.12 L514.65,307.63 L514.48,307.14 L514.31,306.64 L514.13,306.14 L513.95,305.64 L513.78,305.14 L513.60,304.63 L513.43,304.16 L513.26,303.69 L513.09,303.21 L512.92,302.74 L512.74,302.26 L512.57,301.78 L512.39,301.29 L512.21,300.81 L512.03,300.32 L511.86,299.83 L511.67,299.34 L511.49,298.84 L511.31,298.35 L511.12,297.85 L510.94,297.35 L510.75,296.85 L510.56,296.35 L510.37,295.84 L510.18,295.34 L510.00,294.87 L509.82,294.40 L509.64,293.92 L509.46,293.45 L509.28,292.97 L509.10,292.50 L508.92,292.02 L508.73,291.54 L508.54,291.05 L508.36,290.57 L508.17,290.09 L507.98,289.60 L507.79,289.11 L507.60,288.62 L507.41,288.13 L507.22,287.64 L507.02,287.14 L506.83,286.65 L506.64,286.15 L506.44,285.65 L506.24,285.15 L506.04,284.65 L505.84,284.15 L505.64,283.64 L505.44,283.14 L505.26,282.67 L505.07,282.21 L504.89,281.74 L504.70,281.27 L504.51,280.80 L504.32,280.33 L504.13,279.86 L503.94,279.39 L503.75,278.91 L503.56,278.44 L503.37,277.96 L503.18,277.48 L502.98,277.01 L502.79,276.53 L502.59,276.05 L502.40,275.56 L502.20,275.08 L502.00,274.60 L501.81,274.11 L501.61,273.63 L501.41,273.14 L501.21,272.65 L501.01,272.16 L500.81,271.67 L500.61,271.18 L500.40,270.69 L500.20,270.20 L500.00,269.70 L499.79,269.21 L499.59,268.71 L499.38,268.22 L499.18,267.72 L498.97,267.22 L498.76,266.72 L498.56,266.22 L498.35,265.72 L498.14,265.21 L497.93,264.71 L497.72,264.21 L497.51,263.70 L497.30,263.19 L497.08,262.69 L496.89,262.23 L496.70,261.76 L496.50,261.30 L496.31,260.84 L496.11,260.37 L495.92,259.91 L495.72,259.44 L495.52,258.97 L495.33,258.51 L495.13,258.04 L494.93,257.57 L494.74,257.10 L494.54,256.63 L494.34,256.16 L494.14,255.69 L493.94,255.22 L493.74,254.74 L493.54,254.27 L493.34,253.80 L493.14,253.32 L492.93,252.85 L492.73,252.37 L492.53,251.90 L492.33,251.42 L492.12,250.94 L491.92,250.46 L491.72,249.99 L491.51,249.51 L491.31,249.03 L491.10,248.55 L490.90,248.07 L490.69,247.59 L490.49,247.10 L490.28,246.62 L490.07,246.14 L489.87,245.66 L489.66,245.17 L489.45,244.69 L489.24,244.20 L489.04,243.72 L488.83,243.23 L488.62,242.75 L488.41,242.26 L488.20,241.77 L487.99,241.28 L487.78,240.80 L487.57,240.31 L487.36,239.82 L487.15,239.33 L486.94,238.84 L486.73,238.35 L486.51,237.86 L486.30,237.37 L486.09,236.88 L485.88,236.38 L485.67,235.89 L485.45,235.40 L485.24,234.91 L485.03,234.41 L484.81,233.92 L484.60,233.43 L484.39,232.93 L484.17,232.44 L483.96,231.94 L483.74,231.45 L483.53,230.95 L483.31,230.45 L483.10,229.96 L482.88,229.46 L482.67,228.97 L482.45,228.47 L482.24,227.97 L482.02,227.47 L481.80,226.98 L481.59,226.48 L481.37,225.98 L481.15,225.48 L480.94,224.98 L480.72,224.48 L480.50,223.98 L480.29,223.48 L480.07,222.98 L479.85,222.48 L479.63,221.98 L479.42,221.48 L479.20,220.98 L478.98,220.48 L478.76,219.98 L478.54,219.48 L478.33,218.98 L478.11,218.48 L477.89,217.98 L477.67,217.47 L477.45,216.97 L477.23,216.47 L477.02,215.97 L476.80,215.47 L476.58,214.96 L476.36,214.46 L476.14,213.96 L475.92,213.46 L475.70,212.95 L475.48,212.45 L475.26,211.95 L475.04,211.45 L474.83,210.94 L474.61,210.44 L474.39,209.94 L474.17,209.43 L473.95,208.93 L473.73,208.43 L473.51,207.93 L473.29,207.42 L473.07,206.92 L472.85,206.42 L472.63,205.91 L472.42,205.41 L472.20,204.91 L471.98,204.40 L471.76,203.90 L471.54,203.40 L471.32,202.90 L471.10,202.39 L470.88,201.89 L470.66,201.39 L470.45,200.89 L470.23,200.38 L470.01,199.88 L469.79,199.38 L469.57,198.88 L469.35,198.38 L469.14,197.88 L468.92,197.37 L468.70,196.87 L468.48,196.37 L468.26,195.87 L468.05,195.37 L467.83,194.87 L467.61,194.37 L467.39,193.87 L467.18,193.37 L466.96,192.87 L466.74,192.37 L466.53,191.87 L466.31,191.37 L466.09,190.87 L465.88,190.37 L465.66,189.87 L465.44,189.37 L465.23,188.87 L465.01,188.38 L464.80,187.88 L464.58,187.38 L464.37,186.88 L464.15,186.39 L463.94,185.89 L463.72,185.39 L463.51,184.90 L463.29,184.40 L463.08,183.91 L462.87,183.41 L462.65,182.92 L462.44,182.42 L462.23,181.93 L462.01,181.44 L461.80,180.94 L461.59,180.45 L461.38,179.96 L461.16,179.46 L460.95,178.97 L460.74,178.48 L460.53,177.99 L460.32,177.50 L460.11,177.01 L459.90,176.52 L459.69,176.03 L459.48,175.54 L459.27,175.05 L459.06,174.56 L458.85,174.08 L458.64,173.59 L458.43,173.10 L458.23,172.62 L458.02,172.13 L457.81,171.65 L457.60,171.16 L457.40,170.68 L457.19,170.19 L456.99,169.71 L456.78,169.23 L456.57,168.74 L456.37,168.26 L456.17,167.78 L455.96,167.30 L455.76,166.82 L455.55,166.34 L455.35,165.86 L455.15,165.38 L454.94,164.91 L454.74,164.43 L454.54,163.95 L454.34,163.47 L454.14,163.00 L453.94,162.52 L453.74,162.05 L453.54,161.58 L453.34,161.10 L453.14,160.63 L452.94,160.16 L452.74,159.69 L452.55,159.22 L452.35,158.75 L452.15,158.28 L451.95,157.81 L451.76,157.34 L451.56,156.87 L451.37,156.41 L451.17,155.94 L450.98,155.47 L450.79,155.01 L450.59,154.55 L450.40,154.08 L450.21,153.62 L450.01,153.16 L449.80,152.65 L449.59,152.15 L449.38,151.64 L449.18,151.14 L448.97,150.63 L448.76,150.13 L448.55,149.63 L448.35,149.13 L448.14,148.63 L447.93,148.13 L447.73,147.63 L447.53,147.13 L447.32,146.64 L447.12,146.14 L446.92,145.65 L446.72,145.15 L446.52,144.66 L446.32,144.17 L446.12,143.68 L445.92,143.19 L445.72,142.70 L445.52,142.22 L445.32,141.73 L445.13,141.25 L444.93,140.76 L444.74,140.28 L444.54,139.80 L444.35,139.32 L444.16,138.84 L443.97,138.36 L443.77,137.88 L443.58,137.41 L443.39,136.93 L443.21,136.46 L443.02,135.98 L442.83,135.51 L442.64,135.04 L442.46,134.57 L442.27,134.10 L442.09,133.64 L441.90,133.17 L441.70,132.66 L441.50,132.16 L441.31,131.65 L441.11,131.15 L440.91,130.65 L440.72,130.15 L440.52,129.65 L440.33,129.15 L440.14,128.66 L439.95,128.16 L439.75,127.67 L439.57,127.18 L439.38,126.69 L439.19,126.20 L439.00,125.71 L438.82,125.23 L438.63,124.75 L438.45,124.26 L438.27,123.78 L438.08,123.30 L437.90,122.83 L437.72,122.35 L437.55,121.88 L437.37,121.40 L437.19,120.93 L437.02,120.46 L436.83,119.96 L436.64,119.45 L436.45,118.95 L436.27,118.45 L436.08,117.95 L435.90,117.45 L435.72,116.96 L435.54,116.46 L435.36,115.97 L435.18,115.48 L435.00,114.99 L434.83,114.51 L434.66,114.02 L434.48,113.54 L434.31,113.06 L434.14,112.59 L433.97,112.11 L433.81,111.64 L433.63,111.13 L433.45,110.62 L433.27,110.12 L433.10,109.62 L432.93,109.12 L432.76,108.63 L432.59,108.13 L432.42,107.64 L432.25,107.15 L432.09,106.67 L431.92,106.19 L431.76,105.70 L431.60,105.23 L431.44,104.75 L431.27,104.24 L431.11,103.74 L430.94,103.24 L430.78,102.74 L430.62,102.24 L430.46,101.75 L430.31,101.26 L430.15,100.77 L430.00,100.29 L429.85,99.81 L429.70,99.33 L429.54,98.82 L429.39,98.32 L429.23,97.82 L429.08,97.33 L428.93,96.83 L428.79,96.34 L428.64,95.86 L428.50,95.38 L428.36,94.87 L428.21,94.36 L428.07,93.86 L427.93,93.37 L427.79,92.87 L427.65,92.38 L427.52,91.90 L427.38,91.39 L427.25,90.89 L427.12,90.39 L426.99,89.89 L426.86,89.40 L426.74,88.91 L426.61,88.41 L426.49,87.90 L426.37,87.41 L426.25,86.91 L426.14,86.42 L426.03,85.92 L425.91,85.42 L425.81,84.92 L425.70,84.43 L425.59,83.92 L425.49,83.42 L425.40,82.92 L425.30,82.41 L425.20,81.90 L425.12,81.41 L425.03,80.89 L424.94,80.39 L424.87,79.89 L424.79,79.38 L424.72,78.87 L424.65,78.36 L424.59,77.85 L424.53,77.34 L424.48,76.83 L424.43,76.32 L424.40,75.81 L424.36,75.30 L424.33,74.79 L424.32,74.28 L424.30,73.77 L424.30,73.39" fill="none" stroke="#0d70c5" stroke-width="2.1" stroke-dasharray="6.2 6.8" stroke-linecap="butt"/>
<path d="M734.64,342.68 L734.63,342.17 L734.62,341.67 L734.60,341.17 L734.57,340.65 L734.53,340.15 L734.49,339.65 L734.44,339.13 L734.39,338.63 L734.33,338.12 L734.26,337.62 L734.19,337.11 L734.12,336.61 L734.04,336.10 L733.95,335.60 L733.87,335.10 L733.78,334.59 L733.68,334.09 L733.59,333.59 L733.49,333.08 L733.38,332.59 L733.28,332.09 L733.17,331.58 L733.06,331.07 L732.94,330.58 L732.83,330.08 L732.71,329.57 L732.58,329.06 L732.46,328.57 L732.34,328.07 L732.21,327.57 L732.08,327.06 L731.95,326.58 L731.82,326.09 L731.69,325.60 L731.55,325.10 L731.41,324.60 L731.27,324.09 L731.13,323.61 L731.00,323.12 L730.85,322.63 L730.71,322.13 L730.56,321.63 L730.41,321.13 L730.26,320.62 L730.11,320.14 L729.96,319.66 L729.81,319.17 L729.66,318.68 L729.51,318.18 L729.35,317.69 L729.19,317.19 L729.03,316.68 L728.87,316.20 L728.72,315.72 L728.56,315.24 L728.40,314.76 L728.24,314.27 L728.08,313.78 L727.91,313.28 L727.74,312.78 L727.57,312.28 L727.40,311.78 L727.23,311.28 L727.07,310.80 L726.90,310.32 L726.74,309.84 L726.57,309.36 L726.40,308.88 L726.23,308.39 L726.06,307.90 L725.88,307.41 L725.71,306.91 L725.53,306.42 L725.35,305.92 L725.17,305.42 L724.99,304.91 L724.82,304.44 L724.64,303.97 L724.47,303.50 L724.30,303.02 L724.12,302.54 L723.94,302.06 L723.76,301.58 L723.59,301.09 L723.40,300.61 L723.22,300.12 L723.04,299.63 L722.85,299.14 L722.67,298.64 L722.48,298.15 L722.29,297.65 L722.10,297.15 L721.91,296.65 L721.72,296.14 L721.52,295.64 L721.34,295.17 L721.16,294.70 L720.98,294.23 L720.80,293.75 L720.61,293.28 L720.43,292.80 L720.24,292.32 L720.06,291.84 L719.87,291.36 L719.68,290.88 L719.49,290.40 L719.30,289.91 L719.10,289.42 L718.91,288.93 L718.72,288.44 L718.52,287.95 L718.33,287.46 L718.13,286.96 L717.93,286.47 L717.73,285.97 L717.53,285.47 L717.33,284.97 L717.13,284.47 L716.93,283.97 L716.73,283.46 L716.54,283.00 L716.35,282.53 L716.16,282.07 L715.97,281.60 L715.78,281.13 L715.59,280.66 L715.40,280.19 L715.21,279.72 L715.01,279.24 L714.82,278.77 L714.62,278.29 L714.43,277.82 L714.23,277.34 L714.03,276.86 L713.84,276.38 L713.64,275.90 L713.44,275.42 L713.24,274.93 L713.04,274.45 L712.84,273.97 L712.64,273.48 L712.43,272.99 L712.23,272.50 L712.03,272.01 L711.82,271.52 L711.62,271.03 L711.41,270.54 L711.21,270.05 L711.00,269.55 L710.79,269.06 L710.58,268.56 L710.37,268.06 L710.16,267.57 L709.95,267.07 L709.74,266.57 L709.53,266.07 L709.32,265.56 L709.11,265.06 L708.90,264.56 L708.68,264.05 L708.47,263.55 L708.27,263.09 L708.08,262.63 L707.88,262.16 L707.68,261.70 L707.49,261.24 L707.29,260.77 L707.09,260.31 L706.89,259.84 L706.69,259.38 L706.49,258.91 L706.29,258.44 L706.09,257.98 L705.89,257.51 L705.69,257.04 L705.49,256.57 L705.29,256.10 L705.09,255.63 L704.88,255.15 L704.68,254.68 L704.48,254.21 L704.27,253.73 L704.07,253.26 L703.86,252.78 L703.66,252.31 L703.45,251.83 L703.25,251.36 L703.04,250.88 L702.83,250.40 L702.63,249.92 L702.42,249.44 L702.21,248.96 L702.00,248.48 L701.79,248.00 L701.59,247.52 L701.38,247.04 L701.17,246.56 L700.96,246.07 L700.75,245.59 L700.54,245.11 L700.33,244.62 L700.12,244.14 L699.90,243.65 L699.69,243.17 L699.48,242.68 L699.27,242.19 L699.06,241.71 L698.84,241.22 L698.63,240.73 L698.42,240.24 L698.20,239.75 L697.99,239.26 L697.77,238.77 L697.56,238.28 L697.35,237.79 L697.13,237.30 L696.91,236.81 L696.70,236.32 L696.48,235.83 L696.27,235.33 L696.05,234.84 L695.83,234.35 L695.62,233.85 L695.40,233.36 L695.18,232.87 L694.97,232.37 L694.75,231.88 L694.53,231.38 L694.31,230.88 L694.10,230.39 L693.88,229.89 L693.66,229.40 L693.44,228.90 L693.22,228.40 L693.00,227.90 L692.78,227.41 L692.56,226.91 L692.34,226.41 L692.12,225.91 L691.90,225.41 L691.68,224.91 L691.46,224.42 L691.24,223.92 L691.02,223.42 L690.80,222.92 L690.58,222.42 L690.36,221.92 L690.14,221.42 L689.92,220.92 L689.70,220.41 L689.48,219.91 L689.26,219.41 L689.03,218.91 L688.81,218.41 L688.59,217.91 L688.37,217.41 L688.15,216.90 L687.93,216.40 L687.70,215.90 L687.48,215.40 L687.26,214.90 L687.04,214.39 L686.82,213.89 L686.59,213.39 L686.37,212.89 L686.15,212.38 L685.93,211.88 L685.70,211.38 L685.48,210.88 L685.26,210.37 L685.04,209.87 L684.82,209.37 L684.59,208.86 L684.37,208.36 L684.15,207.86 L683.93,207.36 L683.70,206.85 L683.48,206.35 L683.26,205.85 L683.04,205.34 L682.81,204.84 L682.59,204.34 L682.37,203.84 L682.15,203.33 L681.93,202.83 L681.70,202.33 L681.48,201.82 L681.26,201.32 L681.04,200.82 L680.82,200.32 L680.59,199.82 L680.37,199.31 L680.15,198.81 L679.93,198.31 L679.71,197.81 L679.49,197.31 L679.27,196.81 L679.04,196.30 L678.82,195.80 L678.60,195.30 L678.38,194.80 L678.16,194.30 L677.94,193.80 L677.72,193.30 L677.50,192.80 L677.28,192.30 L677.06,191.80 L676.84,191.30 L676.62,190.80 L676.40,190.30 L676.18,189.80 L675.96,189.31 L675.74,188.81 L675.52,188.31 L675.31,187.81 L675.09,187.32 L674.87,186.82 L674.65,186.32 L674.43,185.82 L674.22,185.33 L674.00,184.83 L673.78,184.34 L673.56,183.84 L673.35,183.35 L673.13,182.85 L672.91,182.36 L672.70,181.86 L672.48,181.37 L672.27,180.88 L672.05,180.38 L671.83,179.89 L671.62,179.40 L671.41,178.91 L671.19,178.42 L670.98,177.93 L670.76,177.43 L670.55,176.94 L670.34,176.45 L670.12,175.97 L669.91,175.48 L669.70,174.99 L669.49,174.50 L669.27,174.01 L669.06,173.53 L668.85,173.04 L668.64,172.55 L668.43,172.07 L668.22,171.58 L668.01,171.10 L667.80,170.61 L667.59,170.13 L667.38,169.65 L667.17,169.16 L666.96,168.68 L666.75,168.20 L666.55,167.72 L666.34,167.24 L666.13,166.76 L665.93,166.28 L665.72,165.80 L665.51,165.32 L665.31,164.84 L665.10,164.36 L664.90,163.89 L664.69,163.41 L664.49,162.94 L664.29,162.46 L664.08,161.99 L663.88,161.51 L663.68,161.04 L663.48,160.57 L663.27,160.10 L663.07,159.62 L662.87,159.15 L662.67,158.68 L662.47,158.21 L662.27,157.75 L662.07,157.28 L661.88,156.81 L661.68,156.34 L661.48,155.88 L661.28,155.41 L661.09,154.95 L660.89,154.48 L660.69,154.02 L660.50,153.56 L660.30,153.10 L660.11,152.64 L659.90,152.13 L659.68,151.62 L659.47,151.12 L659.26,150.62 L659.05,150.11 L658.84,149.61 L658.63,149.11 L658.42,148.61 L658.21,148.11 L658.00,147.61 L657.80,147.12 L657.59,146.62 L657.38,146.13 L657.18,145.63 L656.98,145.14 L656.77,144.65 L656.57,144.16 L656.37,143.67 L656.16,143.18 L655.96,142.69 L655.76,142.20 L655.56,141.72 L655.36,141.23 L655.16,140.75 L654.97,140.27 L654.77,139.78 L654.57,139.30 L654.38,138.82 L654.18,138.34 L653.99,137.87 L653.79,137.39 L653.60,136.92 L653.41,136.44 L653.22,135.97 L653.03,135.50 L652.84,135.03 L652.65,134.56 L652.46,134.09 L652.27,133.62 L652.08,133.16 L651.90,132.69 L651.70,132.19 L651.49,131.68 L651.29,131.18 L651.09,130.68 L650.90,130.18 L650.70,129.68 L650.50,129.18 L650.31,128.68 L650.11,128.19 L649.92,127.70 L649.73,127.21 L649.53,126.72 L649.34,126.23 L649.15,125.74 L648.96,125.26 L648.78,124.77 L648.59,124.29 L648.40,123.81 L648.22,123.33 L648.04,122.85 L647.85,122.38 L647.67,121.90 L647.49,121.43 L647.31,120.96 L647.13,120.49 L646.96,120.02 L646.76,119.52 L646.57,119.01 L646.39,118.51 L646.20,118.01 L646.01,117.51 L645.83,117.02 L645.64,116.52 L645.46,116.03 L645.28,115.54 L645.10,115.06 L644.92,114.57 L644.74,114.09 L644.57,113.60 L644.39,113.12 L644.22,112.65 L644.05,112.17 L643.88,111.70 L643.71,111.23 L643.53,110.72 L643.35,110.22 L643.17,109.72 L642.99,109.22 L642.82,108.72 L642.65,108.23 L642.47,107.74 L642.31,107.25 L642.14,106.76 L641.97,106.28 L641.81,105.80 L641.64,105.32 L641.48,104.84 L641.32,104.37 L641.15,103.86 L640.98,103.36 L640.82,102.86 L640.65,102.36 L640.49,101.87 L640.33,101.38 L640.17,100.89 L640.01,100.41 L639.86,99.93 L639.71,99.45 L639.55,98.94 L639.39,98.44 L639.23,97.94 L639.08,97.44 L638.93,96.95 L638.78,96.46 L638.63,95.97 L638.48,95.49 L638.34,95.01 L638.19,94.50 L638.04,94.00 L637.90,93.50 L637.76,93.01 L637.62,92.52 L637.48,92.03 L637.35,91.55 L637.21,91.04 L637.08,90.54 L636.94,90.05 L636.81,89.55 L636.69,89.07 L636.55,88.56 L636.43,88.05 L636.30,87.55 L636.18,87.06 L636.07,86.57 L635.95,86.06 L635.83,85.56 L635.72,85.06 L635.61,84.57 L635.50,84.06 L635.39,83.55 L635.29,83.05 L635.19,82.56 L635.09,82.06 L635.00,81.56 L634.91,81.06 L634.82,80.55 L634.74,80.05 L634.66,79.54 L634.58,79.03 L634.51,78.54 L634.45,78.03 L634.39,77.53 L634.33,77.02 L634.28,76.52 L634.23,76.01 L634.19,75.50 L634.16,74.99 L634.14,74.48 L634.12,73.97 L634.11,73.47 L634.11,73.21" fill="none" stroke="#0d70c5" stroke-width="2.1" stroke-dasharray="6.2 6.8" stroke-linecap="butt"/>
<path d="M214.49,73.56 L212.40,74.16 L212.40,268.53" fill="none" stroke="#0d70c5" stroke-width="2.1"/>
<path d="M212.40,164.30 Q210.20,156.30 206.90,148.30 L212.40,152.80 L217.90,148.30 Q214.60,156.30 212.40,164.30Z" fill="#0d70c5"/>
<line x1="422.50" y1="70.90" x2="422.50" y2="267.51" stroke="#0d70c5" stroke-width="2.1"/>
<line x1="422.80" y1="139.70" x2="422.80" y2="160.20" stroke="#0d70c5" stroke-width="2.1"/>
<path d="M422.80,163.20 Q420.60,155.20 417.30,147.20 L422.80,151.70 L428.30,147.20 Q425.00,155.20 422.80,163.20Z" fill="#0d70c5"/>
<line x1="633.30" y1="70.20" x2="633.30" y2="267.24" stroke="#0d70c5" stroke-width="2.1"/>
<line x1="634.10" y1="139.10" x2="634.10" y2="159.30" stroke="#0d70c5" stroke-width="2.1"/>
<path d="M634.10,162.30 Q631.90,154.30 628.60,146.30 L634.10,150.80 L639.60,146.30 Q636.30,154.30 634.10,162.30Z" fill="#0d70c5"/>
<path d="M311.57,342.31 L311.00,341.71 L311.00,145.01" fill="none" stroke="#0d70c5" stroke-width="2.1"/>
<path d="M311.00,223.40 Q313.20,231.40 316.50,239.40 L311.00,234.90 L305.50,239.40 Q308.80,231.40 311.00,223.40Z" fill="#0d70c5"/>
<path d="M523.10,342.50 L523.06,341.90 L523.06,146.94" fill="none" stroke="#0d70c5" stroke-width="2.1"/>
<path d="M523.06,227.40 Q525.26,235.40 528.56,243.40 L523.06,238.90 L517.56,243.40 Q520.86,235.40 523.06,227.40Z" fill="#0d70c5"/>
<path d="M734.64,342.68 L735.60,342.08 L735.60,148.33" fill="none" stroke="#0d70c5" stroke-width="2.1"/>
<path d="M735.60,228.60 Q737.80,236.60 741.10,244.60 L735.60,240.10 L730.10,244.60 Q733.40,236.60 735.60,228.60Z" fill="#0d70c5"/>
<path d="M157.50,207.90 L158.12,208.59 L158.73,209.27 L159.35,209.96 L159.96,210.65 L160.58,211.33 L161.19,212.02 L161.81,212.71 L162.42,213.39 L163.04,214.08 L163.65,214.76 L164.27,215.45 L164.88,216.14 L165.50,216.82 L166.11,217.51 L166.73,218.19 L167.34,218.88 L167.96,219.56 L168.57,220.25 L169.19,220.93 L169.80,221.61 L170.42,222.30 L171.03,222.98 L171.64,223.66 L172.26,224.35 L172.87,225.03 L173.48,225.71 L174.10,226.39 L174.71,227.08 L175.32,227.76 L175.94,228.44 L176.55,229.12 L177.16,229.80 L177.77,230.48 L178.38,231.16 L178.99,231.83 L179.60,232.51 L180.22,233.19 L180.83,233.87 L181.44,234.54 L182.05,235.22 L182.65,235.89 L183.26,236.57 L183.87,237.24 L184.48,237.92 L185.09,238.59 L185.70,239.26 L186.30,239.93 L186.91,240.60 L187.52,241.27 L188.12,241.94 L188.73,242.61 L189.33,243.28 L189.94,243.95 L190.58,244.66 L191.22,245.36 L191.85,246.07 L192.49,246.77 L193.13,247.47 L193.77,248.17 L194.40,248.87 L195.04,249.57 L195.68,250.27 L196.31,250.97 L196.94,251.67 L197.58,252.36 L198.21,253.06 L198.84,253.75 L199.47,254.44 L200.11,255.14 L200.74,255.83 L201.37,256.52 L201.99,257.21 L202.62,257.89 L203.25,258.58 L203.88,259.26 L204.50,259.95 L205.13,260.63 L205.75,261.31 L206.38,261.99 L207.00,262.67 L207.62,263.35 L208.24,264.02 L208.87,264.70 L209.49,265.37 L210.10,266.04 L210.72,266.72 L211.34,267.39 L211.96,268.05 L212.57,268.72 L213.19,269.39 L213.80,270.05 L214.41,270.71 L215.03,271.37 L215.67,272.07 L216.31,272.76 L216.96,273.46 L217.60,274.15 L218.24,274.84 L218.88,275.52 L219.52,276.21 L220.16,276.89 L220.79,277.58 L221.43,278.26 L222.06,278.93 L222.69,279.61 L223.33,280.29 L223.96,280.96 L224.58,281.63 L225.21,282.30 L225.84,282.97 L226.47,283.63 L227.09,284.29 L227.71,284.95 L228.33,285.61 L228.95,286.27 L229.57,286.92 L230.22,287.61 L230.87,288.29 L231.52,288.98 L232.17,289.66 L232.81,290.33 L233.45,291.01 L234.09,291.68 L234.73,292.35 L235.37,293.02 L236.01,293.68 L236.64,294.34 L237.27,295.00 L237.91,295.66 L238.54,296.31 L239.16,296.97 L239.79,297.61 L240.45,298.29 L241.10,298.97 L241.75,299.64 L242.40,300.31 L243.05,300.97 L243.69,301.64 L244.34,302.30 L244.98,302.95 L245.62,303.61 L246.26,304.26 L246.89,304.90 L247.53,305.55 L248.19,306.22 L248.85,306.88 L249.51,307.55 L250.16,308.21 L250.81,308.86 L251.46,309.51 L252.11,310.16 L252.76,310.81 L253.40,311.45 L254.04,312.08 L254.70,312.74 L255.37,313.40 L256.03,314.05 L256.69,314.70 L257.34,315.34 L257.99,315.98 L258.64,316.62 L259.29,317.25 L259.96,317.90 L260.63,318.55 L261.30,319.19 L261.96,319.82 L262.62,320.46 L263.27,321.08 L263.92,321.70 L264.60,322.35 L265.27,322.98 L265.94,323.61 L266.60,324.23 L267.26,324.85 L267.95,325.49 L268.63,326.12 L269.30,326.74 L269.97,327.36 L270.64,327.97 L271.32,328.60 L272.01,329.21 L272.68,329.83 L273.36,330.43 L274.05,331.05 L274.74,331.66 L275.42,332.26 L276.10,332.86 L276.79,333.46 L277.48,334.06 L278.17,334.65 L278.87,335.25 L279.57,335.84 L280.26,336.42 L280.96,337.01 L281.66,337.59 L282.38,338.17 L283.08,338.75 L283.80,339.33 L284.52,339.90 L285.24,340.47 L285.96,341.03 L286.69,341.59 L287.41,342.13 L288.14,342.68 L288.88,343.22 L289.62,343.75 L290.36,344.28 L291.10,344.80 L291.86,345.31 L292.62,345.82 L293.38,346.32 L294.15,346.80 L294.92,347.28 L295.70,347.75 L296.49,348.20 L297.29,348.63 L298.10,349.06 L298.92,349.46 L299.74,349.84 L300.59,350.19 L301.44,350.51 L302.30,350.80 L303.17,351.04 L304.06,351.22 L304.96,351.34 L305.87,351.36 L306.77,351.28 L307.64,351.06 L308.47,350.69 L309.20,350.16 L309.82,349.50 L310.32,348.74 L310.71,347.93 L311.00,347.07 L311.22,346.20 L311.38,345.30 L311.48,344.40 L311.54,343.49 L311.57,342.57 L311.57,342.31" fill="none" stroke="#0d70c5" stroke-width="3.1" stroke-linejoin="round" stroke-linecap="round"/>
<path d="M214.49,73.56 L214.51,72.66 L214.56,71.76 L214.65,70.86 L214.78,69.97 L214.97,69.08 L215.24,68.21 L215.59,67.37 L216.04,66.58 L216.62,65.88 L217.30,65.30 L218.10,64.86 L218.96,64.58 L219.85,64.45 L220.76,64.44 L221.66,64.53 L222.55,64.69 L223.43,64.92 L224.30,65.19 L225.14,65.51 L225.98,65.85 L226.81,66.22 L227.63,66.62 L228.44,67.04 L229.24,67.48 L230.03,67.93 L230.81,68.39 L231.58,68.87 L232.35,69.36 L233.12,69.86 L233.87,70.37 L234.62,70.88 L235.35,71.39 L236.10,71.93 L236.84,72.47 L237.58,73.01 L238.30,73.55 L239.03,74.11 L239.75,74.67 L240.46,75.22 L241.18,75.79 L241.89,76.36 L242.60,76.93 L243.30,77.50 L244.01,78.09 L244.72,78.68 L245.42,79.27 L246.12,79.87 L246.81,80.46 L247.51,81.05 L248.21,81.66 L248.89,82.26 L249.58,82.87 L250.28,83.48 L250.95,84.08 L251.64,84.69 L252.32,85.31 L253.01,85.94 L253.69,86.55 L254.36,87.17 L255.05,87.79 L255.73,88.43 L256.40,89.04 L257.07,89.66 L257.74,90.29 L258.42,90.93 L259.07,91.55 L259.73,92.17 L260.40,92.80 L261.06,93.44 L261.73,94.08 L262.41,94.73 L263.06,95.35 L263.71,95.98 L264.37,96.62 L265.03,97.26 L265.69,97.91 L266.36,98.56 L267.03,99.22 L267.68,99.85 L268.33,100.49 L268.98,101.14 L269.63,101.79 L270.29,102.44 L270.95,103.09 L271.61,103.76 L272.25,104.39 L272.89,105.03 L273.53,105.68 L274.17,106.33 L274.82,106.98 L275.47,107.63 L276.12,108.29 L276.77,108.96 L277.43,109.62 L278.09,110.29 L278.72,110.94 L279.35,111.58 L279.99,112.23 L280.62,112.89 L281.26,113.54 L281.90,114.20 L282.55,114.87 L283.19,115.53 L283.84,116.20 L284.49,116.88 L285.14,117.55 L285.79,118.23 L286.42,118.88 L287.04,119.53 L287.67,120.18 L288.30,120.84 L288.93,121.50 L289.56,122.16 L290.20,122.83 L290.83,123.49 L291.47,124.16 L292.11,124.84 L292.75,125.51 L293.39,126.19 L294.04,126.87 L294.68,127.55 L295.33,128.24 L295.98,128.92 L296.63,129.61 L297.25,130.27 L297.87,130.93 L298.49,131.59 L299.11,132.25 L299.73,132.92 L300.36,133.58 L300.99,134.25 L301.62,134.92 L302.24,135.60 L302.88,136.27 L303.51,136.95 L304.14,137.63 L304.77,138.31 L305.41,138.99 L306.05,139.67 L306.68,140.36 L307.32,141.05 L307.96,141.74 L308.61,142.43 L309.25,143.12 L309.89,143.82 L310.54,144.51 L311.15,145.17 L311.76,145.84 L312.37,146.50 L312.99,147.17 L313.60,147.83 L314.22,148.50 L314.84,149.17 L315.46,149.84 L316.08,150.51 L316.70,151.19 L317.32,151.86 L317.94,152.54 L318.56,153.22 L319.18,153.90 L319.81,154.58 L320.43,155.26 L321.06,155.94 L321.69,156.63 L322.31,157.31 L322.94,158.00 L323.57,158.68 L324.20,159.37 L324.83,160.06 L325.46,160.75 L326.09,161.44 L326.73,162.14 L327.36,162.83 L327.99,163.53 L328.63,164.22 L329.26,164.92 L329.90,165.62 L330.54,166.32 L331.17,167.02 L331.81,167.72 L332.45,168.42 L333.09,169.12 L333.73,169.83 L334.37,170.53 L334.98,171.20 L335.58,171.86 L336.19,172.53 L336.79,173.20 L337.40,173.87 L338.01,174.54 L338.62,175.21 L339.23,175.88 L339.84,176.55 L340.45,177.22 L341.06,177.90 L341.67,178.57 L342.28,179.24 L342.89,179.92 L343.50,180.59 L344.11,181.27 L344.72,181.95 L345.34,182.62 L345.95,183.30 L346.56,183.98 L347.18,184.66 L347.79,185.34 L348.40,186.02 L349.02,186.70 L349.63,187.38 L350.25,188.06 L350.87,188.74 L351.48,189.42 L352.10,190.10 L352.71,190.78 L353.33,191.47 L353.95,192.15 L354.56,192.83 L355.18,193.52 L355.80,194.20 L356.42,194.88 L357.03,195.57 L357.65,196.25 L358.27,196.94 L358.89,197.62 L359.51,198.31 L360.13,198.99 L360.74,199.68 L361.36,200.36 L361.98,201.05 L362.60,201.74 L363.22,202.42 L363.84,203.11 L364.46,203.79 L365.08,204.48 L365.70,205.17 L366.32,205.85 L366.94,206.54 L367.56,207.23 L368.18,207.91 L368.80,208.60 L369.42,209.29 L370.04,209.97 L370.66,210.66 L371.28,211.35 L371.90,212.03 L372.52,212.72 L373.14,213.41 L373.76,214.09 L374.38,214.78 L375.00,215.46 L375.62,216.15 L376.24,216.83 L376.86,217.52 L377.47,218.21 L378.09,218.89 L378.71,219.58 L379.33,220.26 L379.95,220.94 L380.57,221.63 L381.19,222.31 L381.81,223.00 L382.42,223.68 L383.04,224.36 L383.66,225.04 L384.28,225.73 L384.90,226.41 L385.51,227.09 L386.13,227.77 L386.75,228.45 L387.36,229.13 L387.98,229.81 L388.60,230.49 L389.21,231.17 L389.83,231.85 L390.44,232.53 L391.06,233.20 L391.67,233.88 L392.29,234.56 L392.90,235.23 L393.51,235.91 L394.13,236.58 L394.74,237.26 L395.35,237.93 L395.96,238.60 L396.58,239.27 L397.19,239.95 L397.80,240.62 L398.41,241.29 L399.02,241.96 L399.63,242.63 L400.24,243.30 L400.85,243.96 L401.46,244.63 L402.06,245.30 L402.67,245.96 L403.28,246.63 L403.92,247.33 L404.56,248.03 L405.20,248.73 L405.84,249.43 L406.48,250.13 L407.12,250.83 L407.76,251.53 L408.40,252.22 L409.04,252.92 L409.68,253.61 L410.31,254.30 L410.95,255.00 L411.58,255.69 L412.22,256.38 L412.85,257.07 L413.48,257.75 L414.11,258.44 L414.75,259.12 L415.38,259.81 L416.01,260.49 L416.64,261.17 L417.26,261.85 L417.89,262.53 L418.52,263.21 L419.14,263.89 L419.77,264.56 L420.39,265.24 L421.02,265.91 L421.64,266.58 L422.26,267.25 L422.88,267.92 L423.50,268.58 L424.12,269.25 L424.74,269.91 L425.36,270.58 L425.97,271.24 L426.59,271.90 L427.20,272.56 L427.85,273.25 L428.50,273.94 L429.14,274.63 L429.79,275.32 L430.43,276.01 L431.07,276.69 L431.72,277.37 L432.36,278.05 L432.99,278.73 L433.63,279.41 L434.27,280.09 L434.90,280.76 L435.54,281.43 L436.17,282.10 L436.80,282.77 L437.43,283.43 L438.06,284.10 L438.69,284.76 L439.31,285.42 L439.94,286.07 L440.56,286.73 L441.19,287.38 L441.84,288.07 L442.49,288.75 L443.14,289.43 L443.79,290.11 L444.44,290.78 L445.08,291.46 L445.73,292.13 L446.37,292.79 L447.01,293.46 L447.65,294.12 L448.29,294.78 L448.93,295.44 L449.56,296.10 L450.19,296.75 L450.82,297.40 L451.45,298.04 L452.11,298.72 L452.77,299.39 L453.42,300.06 L454.08,300.73 L454.73,301.40 L455.38,302.06 L456.02,302.71 L456.67,303.37 L457.31,304.02 L457.95,304.67 L458.59,305.31 L459.23,305.95 L459.89,306.62 L460.55,307.29 L461.21,307.95 L461.87,308.60 L462.53,309.26 L463.18,309.91 L463.83,310.55 L464.48,311.19 L465.12,311.83 L465.77,312.47 L466.43,313.13 L467.10,313.78 L467.76,314.43 L468.42,315.07 L469.08,315.71 L469.74,316.35 L470.39,316.98 L471.04,317.61 L471.71,318.26 L472.38,318.90 L473.05,319.54 L473.71,320.18 L474.37,320.81 L475.03,321.43 L475.71,322.07 L476.39,322.71 L477.06,323.34 L477.73,323.97 L478.40,324.59 L479.06,325.20 L479.75,325.84 L480.43,326.46 L481.10,327.08 L481.78,327.70 L482.44,328.30 L483.13,328.93 L483.82,329.54 L484.50,330.15 L485.17,330.75 L485.86,331.36 L486.55,331.97 L487.24,332.57 L487.94,333.18 L488.64,333.78 L489.33,334.38 L490.01,334.96 L490.72,335.55 L491.41,336.14 L492.13,336.73 L492.83,337.32 L493.53,337.89 L494.25,338.47 L494.95,339.04 L495.67,339.61 L496.39,340.17 L497.11,340.74 L497.83,341.29 L498.56,341.84 L499.30,342.40 L500.03,342.94 L500.77,343.47 L501.52,344.01 L502.26,344.52 L503.00,345.04 L503.75,345.54 L504.51,346.04 L505.27,346.53 L506.03,347.00 L506.82,347.48 L507.60,347.93 L508.40,348.38 L509.19,348.81 L510.00,349.21 L510.81,349.60 L511.64,349.97 L512.49,350.31 L513.34,350.62 L514.20,350.89 L515.09,351.11 L515.98,351.27 L516.88,351.36 L517.78,351.35 L518.68,351.22 L519.54,350.94 L520.34,350.51 L521.03,349.93 L521.60,349.23 L522.05,348.44 L522.40,347.61 L522.66,346.74 L522.84,345.85 L522.97,344.96 L523.05,344.06 L523.10,343.14 L523.10,342.50" fill="none" stroke="#0d70c5" stroke-width="3.1" stroke-linejoin="round" stroke-linecap="round"/>
<path d="M424.30,73.39 L424.32,72.48 L424.37,71.58 L424.46,70.68 L424.60,69.78 L424.80,68.90 L425.07,68.04 L425.44,67.21 L425.91,66.44 L426.50,65.76 L427.21,65.20 L428.02,64.79 L428.89,64.55 L429.79,64.44 L430.70,64.45 L431.59,64.56 L432.48,64.74 L433.36,64.97 L434.22,65.25 L435.06,65.57 L435.89,65.92 L436.72,66.30 L437.53,66.69 L438.34,67.11 L439.13,67.55 L439.93,68.00 L440.71,68.47 L441.49,68.95 L442.25,69.43 L443.01,69.93 L443.76,70.43 L444.51,70.94 L445.25,71.46 L445.99,71.99 L446.73,72.53 L447.47,73.07 L448.20,73.62 L448.93,74.18 L449.66,74.74 L450.37,75.29 L451.10,75.86 L451.81,76.43 L452.52,77.01 L453.23,77.58 L453.94,78.17 L454.64,78.75 L455.34,79.33 L456.05,79.93 L456.74,80.52 L457.44,81.12 L458.12,81.71 L458.81,82.31 L459.51,82.91 L460.20,83.53 L460.89,84.13 L461.57,84.74 L462.26,85.36 L462.93,85.97 L463.61,86.58 L464.29,87.20 L464.98,87.82 L465.64,88.43 L466.31,89.05 L466.99,89.67 L467.66,90.30 L468.34,90.94 L469.00,91.56 L469.67,92.18 L470.33,92.81 L471.01,93.45 L471.68,94.09 L472.36,94.73 L473.01,95.36 L473.67,95.99 L474.33,96.63 L475.00,97.27 L475.67,97.92 L476.34,98.57 L476.98,99.20 L477.63,99.84 L478.29,100.47 L478.94,101.12 L479.60,101.77 L480.26,102.42 L480.93,103.08 L481.59,103.74 L482.23,104.37 L482.88,105.01 L483.52,105.66 L484.17,106.31 L484.82,106.96 L485.47,107.61 L486.13,108.27 L486.79,108.94 L487.45,109.60 L488.11,110.27 L488.74,110.92 L489.38,111.56 L490.02,112.21 L490.66,112.87 L491.30,113.52 L491.95,114.18 L492.60,114.85 L493.25,115.51 L493.90,116.18 L494.55,116.85 L495.21,117.53 L495.86,118.21 L496.49,118.86 L497.12,119.51 L497.75,120.16 L498.39,120.82 L499.02,121.48 L499.66,122.14 L500.30,122.81 L500.94,123.47 L501.58,124.14 L502.22,124.81 L502.87,125.49 L503.51,126.17 L504.16,126.85 L504.81,127.53 L505.46,128.21 L506.08,128.86 L506.70,129.52 L507.33,130.18 L507.95,130.83 L508.58,131.50 L509.20,132.16 L509.83,132.82 L510.46,133.49 L511.09,134.16 L511.73,134.83 L512.36,135.50 L512.99,136.18 L513.63,136.85 L514.27,137.53 L514.91,138.21 L515.55,138.89 L516.19,139.58 L516.83,140.26 L517.47,140.95 L518.12,141.64 L518.76,142.33 L519.41,143.02 L520.06,143.72 L520.67,144.38 L521.29,145.04 L521.90,145.70 L522.52,146.36 L523.14,147.03 L523.76,147.70 L524.38,148.36 L525.00,149.03 L525.62,149.71 L526.25,150.38 L526.87,151.05 L527.50,151.73 L528.12,152.40 L528.75,153.08 L529.38,153.76 L530.01,154.44 L530.63,155.12 L531.26,155.80 L531.90,156.49 L532.53,157.17 L533.16,157.86 L533.79,158.54 L534.43,159.23 L535.06,159.92 L535.70,160.61 L536.33,161.30 L536.97,162.00 L537.61,162.69 L538.25,163.39 L538.89,164.08 L539.53,164.78 L540.17,165.48 L540.81,166.17 L541.45,166.87 L542.09,167.58 L542.73,168.28 L543.38,168.98 L543.99,169.64 L544.59,170.31 L545.20,170.97 L545.81,171.64 L546.42,172.31 L547.04,172.98 L547.65,173.65 L548.26,174.31 L548.87,174.99 L549.48,175.66 L550.10,176.33 L550.71,177.00 L551.32,177.67 L551.94,178.35 L552.55,179.02 L553.17,179.69 L553.79,180.37 L554.40,181.05 L555.02,181.72 L555.63,182.40 L556.25,183.08 L556.87,183.75 L557.49,184.43 L558.11,185.11 L558.72,185.79 L559.34,186.47 L559.96,187.15 L560.58,187.83 L561.20,188.51 L561.82,189.19 L562.44,189.87 L563.06,190.56 L563.68,191.24 L564.31,191.92 L564.93,192.60 L565.55,193.29 L566.17,193.97 L566.79,194.65 L567.41,195.34 L568.04,196.02 L568.66,196.71 L569.28,197.39 L569.90,198.08 L570.53,198.76 L571.15,199.45 L571.77,200.13 L572.40,200.82 L573.02,201.51 L573.65,202.19 L574.27,202.88 L574.89,203.57 L575.52,204.25 L576.14,204.94 L576.76,205.62 L577.39,206.31 L578.01,207.00 L578.64,207.68 L579.26,208.37 L579.89,209.06 L580.51,209.74 L581.13,210.43 L581.76,211.12 L582.38,211.80 L583.01,212.49 L583.63,213.18 L584.26,213.86 L584.88,214.55 L585.50,215.23 L586.13,215.92 L586.75,216.61 L587.38,217.29 L588.00,217.98 L588.62,218.66 L589.25,219.35 L589.87,220.03 L590.49,220.72 L591.12,221.40 L591.74,222.08 L592.36,222.77 L592.99,223.45 L593.61,224.13 L594.23,224.82 L594.85,225.50 L595.47,226.18 L596.10,226.86 L596.72,227.54 L597.34,228.22 L597.96,228.90 L598.58,229.58 L599.20,230.26 L599.82,230.94 L600.44,231.62 L601.06,232.30 L601.68,232.98 L602.30,233.65 L602.92,234.33 L603.54,235.01 L604.15,235.68 L604.77,236.36 L605.39,237.03 L606.01,237.71 L606.62,238.38 L607.24,239.05 L607.85,239.72 L608.47,240.39 L609.09,241.06 L609.70,241.73 L610.31,242.40 L610.93,243.07 L611.54,243.74 L612.15,244.41 L612.77,245.07 L613.38,245.74 L613.99,246.40 L614.60,247.07 L615.21,247.73 L615.82,248.39 L616.47,249.09 L617.11,249.79 L617.76,250.49 L618.40,251.19 L619.04,251.89 L619.69,252.58 L620.33,253.28 L620.97,253.97 L621.61,254.66 L622.25,255.35 L622.89,256.04 L623.53,256.73 L624.16,257.42 L624.80,258.11 L625.44,258.79 L626.07,259.48 L626.71,260.16 L627.34,260.84 L627.97,261.53 L628.61,262.21 L629.24,262.88 L629.87,263.56 L630.50,264.24 L631.13,264.91 L631.76,265.58 L632.38,266.26 L633.01,266.93 L633.64,267.60 L634.26,268.26 L634.88,268.93 L635.51,269.60 L636.13,270.26 L636.75,270.92 L637.37,271.58 L637.99,272.24 L638.61,272.90 L639.23,273.55 L639.88,274.24 L640.53,274.93 L641.17,275.62 L641.82,276.31 L642.47,276.99 L643.11,277.67 L643.76,278.35 L644.40,279.03 L645.04,279.71 L645.68,280.38 L646.32,281.05 L646.96,281.72 L647.59,282.39 L648.23,283.06 L648.86,283.72 L649.49,284.39 L650.13,285.05 L650.76,285.70 L651.38,286.36 L652.01,287.02 L652.64,287.67 L653.26,288.32 L653.92,289.00 L654.57,289.68 L655.23,290.36 L655.88,291.03 L656.53,291.70 L657.17,292.37 L657.82,293.04 L658.47,293.70 L659.11,294.37 L659.75,295.02 L660.39,295.68 L661.03,296.34 L661.66,296.99 L662.30,297.64 L662.93,298.28 L663.56,298.92 L664.22,299.60 L664.88,300.27 L665.54,300.93 L666.19,301.60 L666.85,302.26 L667.50,302.91 L668.15,303.57 L668.79,304.22 L669.44,304.86 L670.08,305.51 L670.72,306.15 L671.36,306.78 L672.02,307.45 L672.69,308.11 L673.35,308.76 L674.01,309.42 L674.66,310.06 L675.32,310.71 L675.97,311.35 L676.62,311.99 L677.26,312.62 L677.93,313.28 L678.60,313.93 L679.27,314.58 L679.94,315.22 L680.60,315.86 L681.25,316.50 L681.91,317.13 L682.56,317.75 L683.24,318.40 L683.91,319.05 L684.58,319.68 L685.25,320.32 L685.92,320.94 L686.58,321.57 L687.23,322.18 L687.91,322.82 L688.59,323.45 L689.27,324.08 L689.93,324.70 L690.60,325.31 L691.29,325.94 L691.97,326.57 L692.65,327.19 L693.33,327.80 L694.00,328.40 L694.69,329.02 L695.38,329.64 L696.06,330.25 L696.74,330.84 L697.43,331.46 L698.13,332.06 L698.81,332.66 L699.50,333.25 L700.20,333.85 L700.89,334.44 L701.58,335.03 L702.28,335.62 L702.98,336.20 L703.70,336.80 L704.41,337.38 L705.11,337.95 L705.83,338.53 L706.54,339.10 L707.26,339.67 L707.98,340.23 L708.71,340.79 L709.43,341.34 L710.16,341.89 L710.88,342.43 L711.61,342.97 L712.36,343.51 L713.11,344.04 L713.85,344.56 L714.60,345.07 L715.35,345.57 L716.11,346.07 L716.87,346.55 L717.64,347.03 L718.42,347.50 L719.21,347.96 L720.01,348.40 L720.80,348.83 L721.61,349.23 L722.42,349.62 L723.26,349.99 L724.10,350.33 L724.96,350.63 L725.82,350.90 L726.71,351.12 L727.61,351.28 L728.51,351.36 L729.41,351.35 L730.30,351.21 L731.16,350.93 L731.95,350.49 L732.64,349.90 L733.20,349.19 L733.64,348.40 L733.98,347.56 L734.23,346.69 L734.41,345.80 L734.53,344.90 L734.60,343.99 L734.63,343.09 L734.64,342.68" fill="none" stroke="#0d70c5" stroke-width="3.1" stroke-linejoin="round" stroke-linecap="round"/>
<path d="M634.11,73.21 L634.12,72.29 L634.18,71.39 L634.27,70.48 L634.42,69.59 L634.63,68.71 L634.91,67.86 L635.30,67.04 L635.79,66.28 L636.41,65.62 L637.15,65.09 L637.97,64.72 L638.85,64.51 L639.76,64.43 L640.66,64.47 L641.56,64.59 L642.45,64.79 L643.32,65.03 L644.18,65.33 L645.03,65.66 L645.88,66.02 L646.70,66.40 L647.52,66.81 L648.33,67.24 L649.14,67.68 L649.92,68.13 L650.71,68.61 L651.48,69.08 L652.25,69.58 L653.02,70.08 L653.78,70.59 L654.53,71.11 L655.28,71.63 L656.03,72.16 L656.76,72.69 L657.50,73.24 L658.24,73.79 L658.96,74.34 L659.69,74.90 L660.41,75.47 L661.12,76.02 L661.84,76.59 L662.54,77.16 L663.25,77.73 L663.96,78.32 L664.67,78.90 L665.37,79.49 L666.07,80.08 L666.76,80.67 L667.47,81.27 L668.16,81.86 L668.85,82.46 L669.55,83.07 L670.23,83.67 L670.92,84.27 L671.61,84.88 L672.30,85.50 L672.98,86.11 L673.66,86.72 L674.35,87.34 L675.04,87.97 L675.71,88.58 L676.38,89.20 L677.06,89.83 L677.74,90.46 L678.40,91.07 L679.07,91.69 L679.74,92.31 L680.41,92.95 L681.08,93.58 L681.76,94.22 L682.42,94.85 L683.08,95.47 L683.74,96.11 L684.41,96.75 L685.08,97.39 L685.75,98.04 L686.40,98.66 L687.05,99.29 L687.70,99.93 L688.36,100.57 L689.02,101.21 L689.68,101.86 L690.35,102.51 L691.02,103.17 L691.66,103.80 L692.31,104.44 L692.95,105.08 L693.60,105.73 L694.25,106.37 L694.91,107.03 L695.57,107.68 L696.23,108.34 L696.89,109.01 L697.55,109.67 L698.19,110.31 L698.83,110.96 L699.47,111.61 L700.12,112.26 L700.76,112.91 L701.41,113.57 L702.06,114.23 L702.71,114.89 L703.36,115.56 L704.02,116.22 L704.68,116.90 L705.34,117.57 L705.97,118.22 L706.60,118.87 L707.23,119.52 L707.87,120.17 L708.51,120.83 L709.15,121.49 L709.79,122.15 L710.43,122.82 L711.07,123.48 L711.72,124.15 L712.37,124.83 L713.02,125.50 L713.67,126.18 L714.32,126.86 L714.97,127.54 L715.60,128.19 L716.22,128.84 L716.85,129.50 L717.47,130.15 L718.10,130.81 L718.73,131.47 L719.36,132.14 L720.00,132.80 L720.63,133.47 L721.27,134.14 L721.90,134.81 L722.54,135.48 L723.18,136.15 L723.82,136.83 L724.46,137.51 L725.10,138.19 L725.75,138.87 L726.39,139.55 L727.04,140.24 L727.69,140.93 L728.34,141.62 L728.99,142.31 L729.60,142.96 L730.22,143.62 L730.84,144.28 L731.46,144.94 L732.08,145.60 L732.70,146.27 L733.32,146.93 L733.95,147.60 L734.57,148.27 L735.20,148.94 L735.82,149.61 L736.45,150.28 L737.08,150.95 L737.71,151.63 L738.34,152.30 L738.97,152.98 L739.60,153.66 L740.24,154.34 L740.87,155.02 L741.50,155.70 L742.14,156.38 L742.77,157.07 L743.41,157.75 L744.05,158.44 L744.69,159.13 L745.33,159.82 L745.97,160.51 L746.61,161.20 L747.25,161.89 L747.89,162.59 L748.53,163.28 L749.18,163.98 L749.82,164.67 L750.46,165.37 L751.11,166.07 L751.76,166.77 L752.37,167.43 L752.98,168.09 L753.59,168.76 L754.20,169.42 L754.82,170.09 L755.43,170.75 L756.04,171.42 L756.66,172.09 L757.27,172.75 L757.89,173.42 L758.50,174.09 L759.12,174.76 L759.74,175.43 L760.36,176.10 L760.97,176.78 L761.59,177.45 L762.21,178.12 L762.83,178.80 L763.45,179.47 L764.07,180.14 L764.69,180.82 L765.31,181.50 L765.93,182.17 L766.55,182.85 L767.17,183.53 L767.80,184.21 L768.42,184.88 L769.04,185.56 L769.67,186.24 L770.29,186.92 L770.91,187.60 L771.54,188.28 L772.16,188.96 L772.79,189.65 L773.41,190.33 L774.04,191.01 L774.66,191.69 L775.29,192.38 L775.91,193.06 L776.54,193.74 L777.16,194.43 L777.79,195.11 L778.42,195.80 L779.04,196.48 L779.67,197.16 L780.30,197.85 L780.93,198.54 L781.55,199.22 L782.18,199.91 L782.81,200.59 L783.44,201.28 L784.07,201.96 L784.69,202.65 L785.32,203.34 L785.95,204.02 L786.58,204.71 L787.21,205.40 L787.84,206.08 L788.46,206.77 L789.09,207.46 L789.50,207.90" fill="none" stroke="#0d70c5" stroke-width="3.1" stroke-linejoin="round" stroke-linecap="round"/>
<path d="M252.17,85.18 Q259.60,88.89 267.75,91.78 L260.73,92.86 L260.40,99.96 Q256.65,92.16 252.17,85.18Z" fill="#0d70c5"/>
<path d="M479.66,101.82 Q486.90,105.87 494.92,109.13 L487.85,109.89 L487.20,116.97 Q483.81,109.00 479.66,101.82Z" fill="#0d70c5"/>
<path d="M690.73,102.88 Q697.98,106.92 705.99,110.18 L698.93,110.94 L698.28,118.02 Q694.89,110.06 690.73,102.88Z" fill="#0d70c5"/>
<path d="M269.22,326.67 Q261.85,322.87 253.73,319.88 L260.76,318.88 L261.18,311.79 Q264.83,319.63 269.22,326.67Z" fill="#0d70c5"/>
<path d="M479.85,325.93 Q472.48,322.14 464.35,319.15 L471.39,318.15 L471.80,311.05 Q475.46,318.90 479.85,325.93Z" fill="#0d70c5"/>
<path d="M694.77,329.09 Q687.33,325.40 679.17,322.54 L686.19,321.43 L686.50,314.33 Q690.27,322.12 694.77,329.09Z" fill="#0d70c5"/>
<text x="132.9" y="20.25" font-family="Liberation Sans" font-size="28.9" text-anchor="end">1.006</text>
<text x="132.9" y="85.88" font-family="Liberation Sans" font-size="28.9" text-anchor="end">1.004</text>
<text x="132.9" y="151.52" font-family="Liberation Sans" font-size="28.9" text-anchor="end">1.002</text>
<text x="132.9" y="282.78" font-family="Liberation Sans" font-size="28.9" text-anchor="end">0.998</text>
<text x="132.9" y="348.42" font-family="Liberation Sans" font-size="28.9" text-anchor="end">0.996</text>
<text x="132.9" y="414.05" font-family="Liberation Sans" font-size="28.9" text-anchor="end">0.994</text>
<text x="115.6" y="217.15" font-family="Liberation Sans" font-size="28.9">1</text>
<text x="158.00" y="448.0" font-family="Liberation Sans" font-size="28.7" text-anchor="middle">49.5</text>
<text x="368.67" y="448.0" font-family="Liberation Sans" font-size="28.7" text-anchor="middle">50</text>
<text x="579.33" y="448.0" font-family="Liberation Sans" font-size="28.7" text-anchor="middle">50.5</text>
<text x="790.00" y="448.0" font-family="Liberation Sans" font-size="28.7" text-anchor="middle">51</text>
<text transform="matrix(0.32050 0 0 0.33333 199.836 496.400)" font-family="Liberation Sans" font-size="100" fill="#000">Normalized feedback distance</text>
<text transform="matrix(0.27273 0 0 0.31603 656.873 495.300)" font-family="Liberation Serif" font-style="italic" font-size="100" fill="#000" stroke="#000" stroke-width="0.9">D</text>
<line x1="681.9" y1="499" x2="693.4" y2="472.3" stroke="#000" stroke-width="1.9"/>
<text transform="matrix(0.38372 0 0 0.31206 697.759 495.300)" font-family="Liberation Serif" font-style="italic" font-size="100" fill="#000" stroke="#000" stroke-width="0.9">λ</text>
<text transform="matrix(0.28854 0 0 0.25625 713.446 501.844)" font-family="Liberation Serif" font-size="100" fill="#000" stroke="#000" stroke-width="0.9">osc</text>
<text transform="matrix(0 -0.32313 0.33478 0 24.000 451.085)" font-family="Liberation Sans" font-size="100" fill="#000">Normalized frequency</text>
<text transform="matrix(0 -0.39402 0.31522 0 23.823 119.680)" font-family="Liberation Serif" font-style="italic" font-size="100" fill="#000">f</text>
<path d="M-0.5,95.2 L1.2,93.6 L9.8,99.2 L9.0,100.4 Z" fill="#000"/>
<text transform="matrix(0 -0.23792 0.22727 0 30.573 109.702)" font-family="Liberation Sans" font-size="100" fill="#000">osc</text>
<line x1="28.2" y1="69" x2="-1" y2="54.8" stroke="#000" stroke-width="2.0"/>
<text transform="matrix(0 -0.41440 0.33152 0 24.872 53.738)" font-family="Liberation Serif" font-style="italic" font-size="100" fill="#000">f</text>
<text transform="matrix(0 -0.23960 0.23091 0 31.069 42.658)" font-family="Liberation Sans" font-size="100" fill="#000">osc</text>
<text transform="matrix(0.25000 0 0 0.29160 286.425 58.500)" font-family="Liberation Serif" font-style="italic" font-size="100" fill="#000" stroke="#000" stroke-width="0.9">R</text>
<g stroke="#000" stroke-width="1.8"><line x1="313.9" y1="46.7" x2="331.9" y2="46.7"/><line x1="313.9" y1="52.8" x2="331.9" y2="52.8"/></g>
<text transform="matrix(0.30000 0 0 0.27761 285.300 86.122)" font-family="Liberation Serif" font-size="100" fill="#000" stroke="#000" stroke-width="0.9">3</text>
<g stroke="#000" stroke-width="1.8"><line x1="310.6" y1="71.7" x2="324.2" y2="84.9"/><line x1="324.2" y1="71.7" x2="310.6" y2="84.9"/></g>
<text transform="matrix(0.32529 0 0 0.29185 333.072 86.608)" font-family="Liberation Serif" font-size="100" fill="#000" stroke="#000" stroke-width="0.9">10</text>
<line x1="367.2" y1="70.5" x2="379.0" y2="70.5" stroke="#000" stroke-width="1.5"/>
<text transform="matrix(0.22439 0 0 0.19552 380.478 76.204)" font-family="Liberation Serif" font-size="100" fill="#000" stroke="#000" stroke-width="0.9">3</text>
<text transform="matrix(0.32529 0 0 0.29185 326.872 126.808)" font-family="Liberation Serif" font-size="100" fill="#000" stroke="#000" stroke-width="0.9">10</text>
<line x1="361.0" y1="110.7" x2="372.8" y2="110.7" stroke="#000" stroke-width="1.5"/>
<text transform="matrix(0.22439 0 0 0.19552 374.278 116.404)" font-family="Liberation Serif" font-size="100" fill="#000" stroke="#000" stroke-width="0.9">3</text>
<text transform="matrix(0.32529 0 0 0.29185 347.472 157.508)" font-family="Liberation Serif" font-size="100" fill="#000" stroke="#000" stroke-width="0.9">10</text>
<line x1="381.6" y1="141.4" x2="393.4" y2="141.4" stroke="#000" stroke-width="1.5"/>
<text transform="matrix(0.19785 0 0 0.19848 395.604 147.300)" font-family="Liberation Serif" font-size="100" fill="#000" stroke="#000" stroke-width="0.9">4</text>
<text transform="matrix(0.28610 0 0 0.27483 326.540 308.625)" font-family="Liberation Sans" font-size="100" fill="#000">unstable</text>
<text transform="matrix(0.30980 0 0 0.28901 567.506 385.986)" font-family="Liberation Serif" font-size="100" fill="#000" stroke="#000" stroke-width="0.9">(</text>
<text transform="matrix(0.23226 0 0 0.28209 579.023 385.818)" font-family="Liberation Serif" font-style="italic" font-size="100" fill="#000" stroke="#000" stroke-width="2.2">C</text>
<line x1="599.4" y1="390.2" x2="609.9" y2="366.2" stroke="#000" stroke-width="1.8"/>
<text transform="matrix(0.21705 0 0 0.28209 613.206 385.818)" font-family="Liberation Serif" font-style="italic" font-size="100" fill="#000" stroke="#000" stroke-width="2.2">G</text>
<text transform="matrix(0.26506 0 0 0.19574 628.470 390.804)" font-family="Liberation Serif" font-size="100" fill="#000">rad</text>
<text transform="matrix(0.25385 0 0 0.28222 666.038 386.373)" font-family="Liberation Serif" font-size="100" fill="#000" stroke="#000" stroke-width="0.9">)</text>
<text transform="matrix(0.35609 0 0 0.27391 677.978 385.011)" font-family="Liberation Serif" font-style="italic" font-size="100" fill="#000">f</text>
<text transform="matrix(0.24980 0 0 0.25417 687.701 391.346)" font-family="Liberation Serif" font-size="100" fill="#000" stroke="#000" stroke-width="0.9">osc</text>
<g stroke="#000" stroke-width="1.6"><line x1="731.1" y1="377.2" x2="748.3" y2="377.2"/><line x1="731.1" y1="381.6" x2="748.3" y2="381.6"/></g>
<text transform="matrix(0.31250 0 0 0.27273 759.094 386.600)" font-family="Liberation Serif" font-size="100" fill="#000" stroke="#000" stroke-width="0.9">2</text>
<g stroke="#000" stroke-width="1.3">
<line x1="275.3" y1="108.4" x2="295.7" y2="88.5"/>
<line x1="298.6" y1="144.3" x2="325.9" y2="118"/>
<line x1="325.9" y1="186.3" x2="351.1" y2="157.4"/>
<line x1="295.3" y1="288" x2="325.7" y2="297.6"/>
</g>
</svg>
</body></html>
